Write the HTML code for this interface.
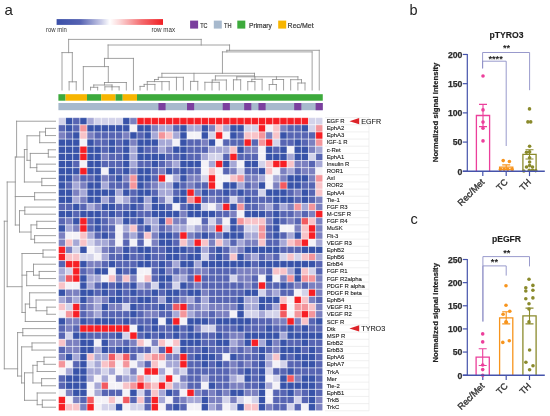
<!DOCTYPE html><html><head><meta charset="utf-8"><style>html,body{margin:0;padding:0;background:#fff;width:550px;height:416px;overflow:hidden}svg{display:block;filter:blur(0.3px)}text{font-family:"Liberation Sans",sans-serif}</style></head><body>
<svg width="550" height="416" viewBox="0 0 550 416">
<defs><linearGradient id="g" x1="0" x2="1"><stop offset="0" stop-color="#3a4fa8"/><stop offset="0.22" stop-color="#5562b2"/><stop offset="0.42" stop-color="#c9cbe7"/><stop offset="0.5" stop-color="#ffffff"/><stop offset="0.6" stop-color="#fbd3d4"/><stop offset="0.8" stop-color="#f46a6d"/><stop offset="1" stop-color="#f01f24"/></linearGradient></defs>
<text x="4.5" y="14.5" font-size="15" fill="#222">a</text>
<rect x="56.6" y="19.1" width="106.4" height="5.8" fill="url(#g)"/>
<text x="46" y="31.8" font-size="6.3" fill="#333" textLength="20.8" lengthAdjust="spacingAndGlyphs">row min</text>
<text x="151.5" y="31.8" font-size="6.3" fill="#333" textLength="23.5" lengthAdjust="spacingAndGlyphs">row max</text>
<rect x="190.1" y="20.6" width="8" height="8" fill="#7b3f9e"/>
<text x="200.2" y="28.0" font-size="7.7" fill="#3a3a3a" stroke="#3a3a3a" stroke-width="0.22" textLength="7.3" lengthAdjust="spacingAndGlyphs">TC</text>
<rect x="213.8" y="20.6" width="8" height="8" fill="#a7b9cd"/>
<text x="224" y="28.0" font-size="7.7" fill="#3a3a3a" stroke="#3a3a3a" stroke-width="0.22" textLength="7.5" lengthAdjust="spacingAndGlyphs">TH</text>
<rect x="237.3" y="20.6" width="8" height="8" fill="#3daa3c"/>
<text x="249" y="28.0" font-size="7.7" fill="#3a3a3a" stroke="#3a3a3a" stroke-width="0.22" textLength="22.9" lengthAdjust="spacingAndGlyphs">Primary</text>
<rect x="278.2" y="20.6" width="8" height="8" fill="#f7b500"/>
<text x="287.6" y="28.0" font-size="7.7" fill="#3a3a3a" stroke="#3a3a3a" stroke-width="0.22" textLength="26.0" lengthAdjust="spacingAndGlyphs">Rec/Met</text>
<rect x="58.40" y="94.2" width="7.14" height="6.5" fill="#3daa3c"/>
<rect x="65.55" y="94.2" width="21.43" height="6.5" fill="#f7b500"/>
<rect x="86.98" y="94.2" width="14.29" height="6.5" fill="#3daa3c"/>
<rect x="101.27" y="94.2" width="14.29" height="6.5" fill="#f7b500"/>
<rect x="115.56" y="94.2" width="7.14" height="6.5" fill="#3daa3c"/>
<rect x="122.70" y="94.2" width="14.29" height="6.5" fill="#f7b500"/>
<rect x="137.00" y="94.2" width="185.77" height="6.5" fill="#3daa3c"/>
<rect x="58.40" y="103" width="264.37" height="7.2" fill="#a7b9cd"/>
<rect x="294.19" y="103" width="7.14" height="7.2" fill="#7b3f9e"/>
<rect x="187.01" y="103" width="7.14" height="7.2" fill="#7b3f9e"/>
<rect x="315.62" y="103" width="7.14" height="7.2" fill="#7b3f9e"/>
<rect x="222.73" y="103" width="7.14" height="7.2" fill="#7b3f9e"/>
<rect x="244.17" y="103" width="7.14" height="7.2" fill="#7b3f9e"/>
<rect x="258.46" y="103" width="7.14" height="7.2" fill="#7b3f9e"/>
<rect x="158.43" y="103" width="7.14" height="7.2" fill="#7b3f9e"/>
<g>
<rect x="58.40" y="117.60" width="7.16" height="7.17" fill="#d3d3ea"/>
<rect x="65.55" y="117.60" width="7.16" height="7.17" fill="#3853a9"/>
<rect x="72.69" y="117.60" width="7.16" height="7.17" fill="#5765b3"/>
<rect x="79.83" y="117.60" width="7.16" height="7.17" fill="#3853a9"/>
<rect x="86.98" y="117.60" width="7.16" height="7.17" fill="#a6a8d6"/>
<rect x="94.12" y="117.60" width="7.16" height="7.17" fill="#d3d3ea"/>
<rect x="101.27" y="117.60" width="7.16" height="7.17" fill="#d3d3ea"/>
<rect x="108.41" y="117.60" width="7.16" height="7.17" fill="#d3d3ea"/>
<rect x="115.56" y="117.60" width="7.16" height="7.17" fill="#d3d3ea"/>
<rect x="122.70" y="117.60" width="7.16" height="7.17" fill="#3853a9"/>
<rect x="129.85" y="117.60" width="7.16" height="7.17" fill="#7b80c0"/>
<rect x="137.00" y="117.60" width="7.16" height="7.17" fill="#f71f25"/>
<rect x="144.14" y="117.60" width="7.16" height="7.17" fill="#f71f25"/>
<rect x="151.28" y="117.60" width="7.16" height="7.17" fill="#f71f25"/>
<rect x="158.43" y="117.60" width="7.16" height="7.17" fill="#f71f25"/>
<rect x="165.57" y="117.60" width="7.16" height="7.17" fill="#f71f25"/>
<rect x="172.72" y="117.60" width="7.16" height="7.17" fill="#f71f25"/>
<rect x="179.86" y="117.60" width="7.16" height="7.17" fill="#f71f25"/>
<rect x="187.01" y="117.60" width="7.16" height="7.17" fill="#f71f25"/>
<rect x="194.16" y="117.60" width="7.16" height="7.17" fill="#f71f25"/>
<rect x="201.30" y="117.60" width="7.16" height="7.17" fill="#f71f25"/>
<rect x="208.44" y="117.60" width="7.16" height="7.17" fill="#f71f25"/>
<rect x="215.59" y="117.60" width="7.16" height="7.17" fill="#f71f25"/>
<rect x="222.73" y="117.60" width="7.16" height="7.17" fill="#f71f25"/>
<rect x="229.88" y="117.60" width="7.16" height="7.17" fill="#f71f25"/>
<rect x="237.03" y="117.60" width="7.16" height="7.17" fill="#f71f25"/>
<rect x="244.17" y="117.60" width="7.16" height="7.17" fill="#f71f25"/>
<rect x="251.31" y="117.60" width="7.16" height="7.17" fill="#f71f25"/>
<rect x="258.46" y="117.60" width="7.16" height="7.17" fill="#f71f25"/>
<rect x="265.60" y="117.60" width="7.16" height="7.17" fill="#f71f25"/>
<rect x="272.75" y="117.60" width="7.16" height="7.17" fill="#f71f25"/>
<rect x="279.89" y="117.60" width="7.16" height="7.17" fill="#f71f25"/>
<rect x="287.04" y="117.60" width="7.16" height="7.17" fill="#f71f25"/>
<rect x="294.19" y="117.60" width="7.16" height="7.17" fill="#f71f25"/>
<rect x="301.33" y="117.60" width="7.16" height="7.17" fill="#f71f25"/>
<rect x="308.47" y="117.60" width="7.16" height="7.17" fill="#d3d3ea"/>
<rect x="315.62" y="117.60" width="7.16" height="7.17" fill="#d3d3ea"/>
<rect x="58.40" y="124.75" width="7.16" height="7.17" fill="#5765b3"/>
<rect x="65.55" y="124.75" width="7.16" height="7.17" fill="#3853a9"/>
<rect x="72.69" y="124.75" width="7.16" height="7.17" fill="#5765b3"/>
<rect x="79.83" y="124.75" width="7.16" height="7.17" fill="#f4959b"/>
<rect x="86.98" y="124.75" width="7.16" height="7.17" fill="#3853a9"/>
<rect x="94.12" y="124.75" width="7.16" height="7.17" fill="#3853a9"/>
<rect x="101.27" y="124.75" width="7.16" height="7.17" fill="#3853a9"/>
<rect x="108.41" y="124.75" width="7.16" height="7.17" fill="#3853a9"/>
<rect x="115.56" y="124.75" width="7.16" height="7.17" fill="#3853a9"/>
<rect x="122.70" y="124.75" width="7.16" height="7.17" fill="#3853a9"/>
<rect x="129.85" y="124.75" width="7.16" height="7.17" fill="#f4f2f7"/>
<rect x="137.00" y="124.75" width="7.16" height="7.17" fill="#3853a9"/>
<rect x="144.14" y="124.75" width="7.16" height="7.17" fill="#3853a9"/>
<rect x="151.28" y="124.75" width="7.16" height="7.17" fill="#7b80c0"/>
<rect x="158.43" y="124.75" width="7.16" height="7.17" fill="#a6a8d6"/>
<rect x="165.57" y="124.75" width="7.16" height="7.17" fill="#a6a8d6"/>
<rect x="172.72" y="124.75" width="7.16" height="7.17" fill="#5765b3"/>
<rect x="179.86" y="124.75" width="7.16" height="7.17" fill="#3853a9"/>
<rect x="187.01" y="124.75" width="7.16" height="7.17" fill="#a6a8d6"/>
<rect x="194.16" y="124.75" width="7.16" height="7.17" fill="#a6a8d6"/>
<rect x="201.30" y="124.75" width="7.16" height="7.17" fill="#3853a9"/>
<rect x="208.44" y="124.75" width="7.16" height="7.17" fill="#7b80c0"/>
<rect x="215.59" y="124.75" width="7.16" height="7.17" fill="#f8c3c8"/>
<rect x="222.73" y="124.75" width="7.16" height="7.17" fill="#a6a8d6"/>
<rect x="229.88" y="124.75" width="7.16" height="7.17" fill="#3853a9"/>
<rect x="237.03" y="124.75" width="7.16" height="7.17" fill="#3853a9"/>
<rect x="244.17" y="124.75" width="7.16" height="7.17" fill="#d3d3ea"/>
<rect x="251.31" y="124.75" width="7.16" height="7.17" fill="#d3d3ea"/>
<rect x="258.46" y="124.75" width="7.16" height="7.17" fill="#f71f25"/>
<rect x="265.60" y="124.75" width="7.16" height="7.17" fill="#f4f2f7"/>
<rect x="272.75" y="124.75" width="7.16" height="7.17" fill="#f8c3c8"/>
<rect x="279.89" y="124.75" width="7.16" height="7.17" fill="#7b80c0"/>
<rect x="287.04" y="124.75" width="7.16" height="7.17" fill="#5765b3"/>
<rect x="294.19" y="124.75" width="7.16" height="7.17" fill="#5765b3"/>
<rect x="301.33" y="124.75" width="7.16" height="7.17" fill="#3853a9"/>
<rect x="308.47" y="124.75" width="7.16" height="7.17" fill="#d3d3ea"/>
<rect x="315.62" y="124.75" width="7.16" height="7.17" fill="#f4959b"/>
<rect x="58.40" y="131.90" width="7.16" height="7.17" fill="#7b80c0"/>
<rect x="65.55" y="131.90" width="7.16" height="7.17" fill="#5765b3"/>
<rect x="72.69" y="131.90" width="7.16" height="7.17" fill="#3853a9"/>
<rect x="79.83" y="131.90" width="7.16" height="7.17" fill="#f8c3c8"/>
<rect x="86.98" y="131.90" width="7.16" height="7.17" fill="#7b80c0"/>
<rect x="94.12" y="131.90" width="7.16" height="7.17" fill="#5765b3"/>
<rect x="101.27" y="131.90" width="7.16" height="7.17" fill="#5765b3"/>
<rect x="108.41" y="131.90" width="7.16" height="7.17" fill="#5765b3"/>
<rect x="115.56" y="131.90" width="7.16" height="7.17" fill="#5765b3"/>
<rect x="122.70" y="131.90" width="7.16" height="7.17" fill="#7b80c0"/>
<rect x="129.85" y="131.90" width="7.16" height="7.17" fill="#3853a9"/>
<rect x="137.00" y="131.90" width="7.16" height="7.17" fill="#5765b3"/>
<rect x="144.14" y="131.90" width="7.16" height="7.17" fill="#3853a9"/>
<rect x="151.28" y="131.90" width="7.16" height="7.17" fill="#a6a8d6"/>
<rect x="158.43" y="131.90" width="7.16" height="7.17" fill="#f4959b"/>
<rect x="165.57" y="131.90" width="7.16" height="7.17" fill="#f8c3c8"/>
<rect x="172.72" y="131.90" width="7.16" height="7.17" fill="#a6a8d6"/>
<rect x="179.86" y="131.90" width="7.16" height="7.17" fill="#3853a9"/>
<rect x="187.01" y="131.90" width="7.16" height="7.17" fill="#f4f2f7"/>
<rect x="194.16" y="131.90" width="7.16" height="7.17" fill="#f4f2f7"/>
<rect x="201.30" y="131.90" width="7.16" height="7.17" fill="#3853a9"/>
<rect x="208.44" y="131.90" width="7.16" height="7.17" fill="#d3d3ea"/>
<rect x="215.59" y="131.90" width="7.16" height="7.17" fill="#f71f25"/>
<rect x="222.73" y="131.90" width="7.16" height="7.17" fill="#f4f2f7"/>
<rect x="229.88" y="131.90" width="7.16" height="7.17" fill="#3853a9"/>
<rect x="237.03" y="131.90" width="7.16" height="7.17" fill="#5765b3"/>
<rect x="244.17" y="131.90" width="7.16" height="7.17" fill="#f8c3c8"/>
<rect x="251.31" y="131.90" width="7.16" height="7.17" fill="#f8c3c8"/>
<rect x="258.46" y="131.90" width="7.16" height="7.17" fill="#f4959b"/>
<rect x="265.60" y="131.90" width="7.16" height="7.17" fill="#7b80c0"/>
<rect x="272.75" y="131.90" width="7.16" height="7.17" fill="#f8c3c8"/>
<rect x="279.89" y="131.90" width="7.16" height="7.17" fill="#3853a9"/>
<rect x="287.04" y="131.90" width="7.16" height="7.17" fill="#5765b3"/>
<rect x="294.19" y="131.90" width="7.16" height="7.17" fill="#5765b3"/>
<rect x="301.33" y="131.90" width="7.16" height="7.17" fill="#5765b3"/>
<rect x="308.47" y="131.90" width="7.16" height="7.17" fill="#5765b3"/>
<rect x="315.62" y="131.90" width="7.16" height="7.17" fill="#f71f25"/>
<rect x="58.40" y="139.05" width="7.16" height="7.17" fill="#3853a9"/>
<rect x="65.55" y="139.05" width="7.16" height="7.17" fill="#3853a9"/>
<rect x="72.69" y="139.05" width="7.16" height="7.17" fill="#3853a9"/>
<rect x="79.83" y="139.05" width="7.16" height="7.17" fill="#f4f2f7"/>
<rect x="86.98" y="139.05" width="7.16" height="7.17" fill="#3853a9"/>
<rect x="94.12" y="139.05" width="7.16" height="7.17" fill="#5765b3"/>
<rect x="101.27" y="139.05" width="7.16" height="7.17" fill="#5765b3"/>
<rect x="108.41" y="139.05" width="7.16" height="7.17" fill="#3853a9"/>
<rect x="115.56" y="139.05" width="7.16" height="7.17" fill="#5765b3"/>
<rect x="122.70" y="139.05" width="7.16" height="7.17" fill="#3853a9"/>
<rect x="129.85" y="139.05" width="7.16" height="7.17" fill="#7b80c0"/>
<rect x="137.00" y="139.05" width="7.16" height="7.17" fill="#3853a9"/>
<rect x="144.14" y="139.05" width="7.16" height="7.17" fill="#3853a9"/>
<rect x="151.28" y="139.05" width="7.16" height="7.17" fill="#3853a9"/>
<rect x="158.43" y="139.05" width="7.16" height="7.17" fill="#a6a8d6"/>
<rect x="165.57" y="139.05" width="7.16" height="7.17" fill="#a6a8d6"/>
<rect x="172.72" y="139.05" width="7.16" height="7.17" fill="#f4f2f7"/>
<rect x="179.86" y="139.05" width="7.16" height="7.17" fill="#3853a9"/>
<rect x="187.01" y="139.05" width="7.16" height="7.17" fill="#5765b3"/>
<rect x="194.16" y="139.05" width="7.16" height="7.17" fill="#5765b3"/>
<rect x="201.30" y="139.05" width="7.16" height="7.17" fill="#7b80c0"/>
<rect x="208.44" y="139.05" width="7.16" height="7.17" fill="#3853a9"/>
<rect x="215.59" y="139.05" width="7.16" height="7.17" fill="#f4f2f7"/>
<rect x="222.73" y="139.05" width="7.16" height="7.17" fill="#5765b3"/>
<rect x="229.88" y="139.05" width="7.16" height="7.17" fill="#5765b3"/>
<rect x="237.03" y="139.05" width="7.16" height="7.17" fill="#5765b3"/>
<rect x="244.17" y="139.05" width="7.16" height="7.17" fill="#f71f25"/>
<rect x="251.31" y="139.05" width="7.16" height="7.17" fill="#5765b3"/>
<rect x="258.46" y="139.05" width="7.16" height="7.17" fill="#f4959b"/>
<rect x="265.60" y="139.05" width="7.16" height="7.17" fill="#f71f25"/>
<rect x="272.75" y="139.05" width="7.16" height="7.17" fill="#d3d3ea"/>
<rect x="279.89" y="139.05" width="7.16" height="7.17" fill="#5765b3"/>
<rect x="287.04" y="139.05" width="7.16" height="7.17" fill="#5765b3"/>
<rect x="294.19" y="139.05" width="7.16" height="7.17" fill="#3853a9"/>
<rect x="301.33" y="139.05" width="7.16" height="7.17" fill="#5765b3"/>
<rect x="308.47" y="139.05" width="7.16" height="7.17" fill="#7b80c0"/>
<rect x="315.62" y="139.05" width="7.16" height="7.17" fill="#f4959b"/>
<rect x="58.40" y="146.20" width="7.16" height="7.17" fill="#3853a9"/>
<rect x="65.55" y="146.20" width="7.16" height="7.17" fill="#3853a9"/>
<rect x="72.69" y="146.20" width="7.16" height="7.17" fill="#3853a9"/>
<rect x="79.83" y="146.20" width="7.16" height="7.17" fill="#f71f25"/>
<rect x="86.98" y="146.20" width="7.16" height="7.17" fill="#3853a9"/>
<rect x="94.12" y="146.20" width="7.16" height="7.17" fill="#3853a9"/>
<rect x="101.27" y="146.20" width="7.16" height="7.17" fill="#5765b3"/>
<rect x="108.41" y="146.20" width="7.16" height="7.17" fill="#3853a9"/>
<rect x="115.56" y="146.20" width="7.16" height="7.17" fill="#5765b3"/>
<rect x="122.70" y="146.20" width="7.16" height="7.17" fill="#3853a9"/>
<rect x="129.85" y="146.20" width="7.16" height="7.17" fill="#a6a8d6"/>
<rect x="137.00" y="146.20" width="7.16" height="7.17" fill="#3853a9"/>
<rect x="144.14" y="146.20" width="7.16" height="7.17" fill="#5765b3"/>
<rect x="151.28" y="146.20" width="7.16" height="7.17" fill="#5765b3"/>
<rect x="158.43" y="146.20" width="7.16" height="7.17" fill="#a6a8d6"/>
<rect x="165.57" y="146.20" width="7.16" height="7.17" fill="#7b80c0"/>
<rect x="172.72" y="146.20" width="7.16" height="7.17" fill="#3853a9"/>
<rect x="179.86" y="146.20" width="7.16" height="7.17" fill="#3853a9"/>
<rect x="187.01" y="146.20" width="7.16" height="7.17" fill="#5765b3"/>
<rect x="194.16" y="146.20" width="7.16" height="7.17" fill="#5765b3"/>
<rect x="201.30" y="146.20" width="7.16" height="7.17" fill="#5765b3"/>
<rect x="208.44" y="146.20" width="7.16" height="7.17" fill="#a6a8d6"/>
<rect x="215.59" y="146.20" width="7.16" height="7.17" fill="#a6a8d6"/>
<rect x="222.73" y="146.20" width="7.16" height="7.17" fill="#a6a8d6"/>
<rect x="229.88" y="146.20" width="7.16" height="7.17" fill="#f8c3c8"/>
<rect x="237.03" y="146.20" width="7.16" height="7.17" fill="#3853a9"/>
<rect x="244.17" y="146.20" width="7.16" height="7.17" fill="#7b80c0"/>
<rect x="251.31" y="146.20" width="7.16" height="7.17" fill="#7b80c0"/>
<rect x="258.46" y="146.20" width="7.16" height="7.17" fill="#f4f2f7"/>
<rect x="265.60" y="146.20" width="7.16" height="7.17" fill="#3853a9"/>
<rect x="272.75" y="146.20" width="7.16" height="7.17" fill="#5765b3"/>
<rect x="279.89" y="146.20" width="7.16" height="7.17" fill="#3853a9"/>
<rect x="287.04" y="146.20" width="7.16" height="7.17" fill="#f4f2f7"/>
<rect x="294.19" y="146.20" width="7.16" height="7.17" fill="#3853a9"/>
<rect x="301.33" y="146.20" width="7.16" height="7.17" fill="#3853a9"/>
<rect x="308.47" y="146.20" width="7.16" height="7.17" fill="#7b80c0"/>
<rect x="315.62" y="146.20" width="7.16" height="7.17" fill="#a6a8d6"/>
<rect x="58.40" y="153.35" width="7.16" height="7.17" fill="#3853a9"/>
<rect x="65.55" y="153.35" width="7.16" height="7.17" fill="#3853a9"/>
<rect x="72.69" y="153.35" width="7.16" height="7.17" fill="#3853a9"/>
<rect x="79.83" y="153.35" width="7.16" height="7.17" fill="#f71f25"/>
<rect x="86.98" y="153.35" width="7.16" height="7.17" fill="#3853a9"/>
<rect x="94.12" y="153.35" width="7.16" height="7.17" fill="#3853a9"/>
<rect x="101.27" y="153.35" width="7.16" height="7.17" fill="#7b80c0"/>
<rect x="108.41" y="153.35" width="7.16" height="7.17" fill="#5765b3"/>
<rect x="115.56" y="153.35" width="7.16" height="7.17" fill="#5765b3"/>
<rect x="122.70" y="153.35" width="7.16" height="7.17" fill="#3853a9"/>
<rect x="129.85" y="153.35" width="7.16" height="7.17" fill="#a6a8d6"/>
<rect x="137.00" y="153.35" width="7.16" height="7.17" fill="#3853a9"/>
<rect x="144.14" y="153.35" width="7.16" height="7.17" fill="#3853a9"/>
<rect x="151.28" y="153.35" width="7.16" height="7.17" fill="#3853a9"/>
<rect x="158.43" y="153.35" width="7.16" height="7.17" fill="#3853a9"/>
<rect x="165.57" y="153.35" width="7.16" height="7.17" fill="#5765b3"/>
<rect x="172.72" y="153.35" width="7.16" height="7.17" fill="#5765b3"/>
<rect x="179.86" y="153.35" width="7.16" height="7.17" fill="#3853a9"/>
<rect x="187.01" y="153.35" width="7.16" height="7.17" fill="#5765b3"/>
<rect x="194.16" y="153.35" width="7.16" height="7.17" fill="#5765b3"/>
<rect x="201.30" y="153.35" width="7.16" height="7.17" fill="#a6a8d6"/>
<rect x="208.44" y="153.35" width="7.16" height="7.17" fill="#d3d3ea"/>
<rect x="215.59" y="153.35" width="7.16" height="7.17" fill="#d3d3ea"/>
<rect x="222.73" y="153.35" width="7.16" height="7.17" fill="#5765b3"/>
<rect x="229.88" y="153.35" width="7.16" height="7.17" fill="#f71f25"/>
<rect x="237.03" y="153.35" width="7.16" height="7.17" fill="#5765b3"/>
<rect x="244.17" y="153.35" width="7.16" height="7.17" fill="#5765b3"/>
<rect x="251.31" y="153.35" width="7.16" height="7.17" fill="#5765b3"/>
<rect x="258.46" y="153.35" width="7.16" height="7.17" fill="#f4f2f7"/>
<rect x="265.60" y="153.35" width="7.16" height="7.17" fill="#3853a9"/>
<rect x="272.75" y="153.35" width="7.16" height="7.17" fill="#3853a9"/>
<rect x="279.89" y="153.35" width="7.16" height="7.17" fill="#3853a9"/>
<rect x="287.04" y="153.35" width="7.16" height="7.17" fill="#a6a8d6"/>
<rect x="294.19" y="153.35" width="7.16" height="7.17" fill="#3853a9"/>
<rect x="301.33" y="153.35" width="7.16" height="7.17" fill="#3853a9"/>
<rect x="308.47" y="153.35" width="7.16" height="7.17" fill="#d3d3ea"/>
<rect x="315.62" y="153.35" width="7.16" height="7.17" fill="#5765b3"/>
<rect x="58.40" y="160.50" width="7.16" height="7.17" fill="#3853a9"/>
<rect x="65.55" y="160.50" width="7.16" height="7.17" fill="#3853a9"/>
<rect x="72.69" y="160.50" width="7.16" height="7.17" fill="#5765b3"/>
<rect x="79.83" y="160.50" width="7.16" height="7.17" fill="#f4f2f7"/>
<rect x="86.98" y="160.50" width="7.16" height="7.17" fill="#3853a9"/>
<rect x="94.12" y="160.50" width="7.16" height="7.17" fill="#3853a9"/>
<rect x="101.27" y="160.50" width="7.16" height="7.17" fill="#5765b3"/>
<rect x="108.41" y="160.50" width="7.16" height="7.17" fill="#5765b3"/>
<rect x="115.56" y="160.50" width="7.16" height="7.17" fill="#5765b3"/>
<rect x="122.70" y="160.50" width="7.16" height="7.17" fill="#3853a9"/>
<rect x="129.85" y="160.50" width="7.16" height="7.17" fill="#a6a8d6"/>
<rect x="137.00" y="160.50" width="7.16" height="7.17" fill="#5765b3"/>
<rect x="144.14" y="160.50" width="7.16" height="7.17" fill="#5765b3"/>
<rect x="151.28" y="160.50" width="7.16" height="7.17" fill="#3853a9"/>
<rect x="158.43" y="160.50" width="7.16" height="7.17" fill="#5765b3"/>
<rect x="165.57" y="160.50" width="7.16" height="7.17" fill="#7b80c0"/>
<rect x="172.72" y="160.50" width="7.16" height="7.17" fill="#a6a8d6"/>
<rect x="179.86" y="160.50" width="7.16" height="7.17" fill="#3853a9"/>
<rect x="187.01" y="160.50" width="7.16" height="7.17" fill="#3853a9"/>
<rect x="194.16" y="160.50" width="7.16" height="7.17" fill="#3853a9"/>
<rect x="201.30" y="160.50" width="7.16" height="7.17" fill="#f4f2f7"/>
<rect x="208.44" y="160.50" width="7.16" height="7.17" fill="#a6a8d6"/>
<rect x="215.59" y="160.50" width="7.16" height="7.17" fill="#f71f25"/>
<rect x="222.73" y="160.50" width="7.16" height="7.17" fill="#3853a9"/>
<rect x="229.88" y="160.50" width="7.16" height="7.17" fill="#a6a8d6"/>
<rect x="237.03" y="160.50" width="7.16" height="7.17" fill="#f4f2f7"/>
<rect x="244.17" y="160.50" width="7.16" height="7.17" fill="#3853a9"/>
<rect x="251.31" y="160.50" width="7.16" height="7.17" fill="#3853a9"/>
<rect x="258.46" y="160.50" width="7.16" height="7.17" fill="#d3d3ea"/>
<rect x="265.60" y="160.50" width="7.16" height="7.17" fill="#f8c3c8"/>
<rect x="272.75" y="160.50" width="7.16" height="7.17" fill="#f71f25"/>
<rect x="279.89" y="160.50" width="7.16" height="7.17" fill="#f71f25"/>
<rect x="287.04" y="160.50" width="7.16" height="7.17" fill="#f8c3c8"/>
<rect x="294.19" y="160.50" width="7.16" height="7.17" fill="#7b80c0"/>
<rect x="301.33" y="160.50" width="7.16" height="7.17" fill="#7b80c0"/>
<rect x="308.47" y="160.50" width="7.16" height="7.17" fill="#5765b3"/>
<rect x="315.62" y="160.50" width="7.16" height="7.17" fill="#a6a8d6"/>
<rect x="58.40" y="167.65" width="7.16" height="7.17" fill="#3853a9"/>
<rect x="65.55" y="167.65" width="7.16" height="7.17" fill="#3853a9"/>
<rect x="72.69" y="167.65" width="7.16" height="7.17" fill="#3853a9"/>
<rect x="79.83" y="167.65" width="7.16" height="7.17" fill="#f71f25"/>
<rect x="86.98" y="167.65" width="7.16" height="7.17" fill="#3853a9"/>
<rect x="94.12" y="167.65" width="7.16" height="7.17" fill="#3853a9"/>
<rect x="101.27" y="167.65" width="7.16" height="7.17" fill="#f4f2f7"/>
<rect x="108.41" y="167.65" width="7.16" height="7.17" fill="#3853a9"/>
<rect x="115.56" y="167.65" width="7.16" height="7.17" fill="#5765b3"/>
<rect x="122.70" y="167.65" width="7.16" height="7.17" fill="#3853a9"/>
<rect x="129.85" y="167.65" width="7.16" height="7.17" fill="#7b80c0"/>
<rect x="137.00" y="167.65" width="7.16" height="7.17" fill="#3853a9"/>
<rect x="144.14" y="167.65" width="7.16" height="7.17" fill="#3853a9"/>
<rect x="151.28" y="167.65" width="7.16" height="7.17" fill="#5765b3"/>
<rect x="158.43" y="167.65" width="7.16" height="7.17" fill="#7b80c0"/>
<rect x="165.57" y="167.65" width="7.16" height="7.17" fill="#3853a9"/>
<rect x="172.72" y="167.65" width="7.16" height="7.17" fill="#5765b3"/>
<rect x="179.86" y="167.65" width="7.16" height="7.17" fill="#3853a9"/>
<rect x="187.01" y="167.65" width="7.16" height="7.17" fill="#5765b3"/>
<rect x="194.16" y="167.65" width="7.16" height="7.17" fill="#5765b3"/>
<rect x="201.30" y="167.65" width="7.16" height="7.17" fill="#f4f2f7"/>
<rect x="208.44" y="167.65" width="7.16" height="7.17" fill="#f8c3c8"/>
<rect x="215.59" y="167.65" width="7.16" height="7.17" fill="#f4f2f7"/>
<rect x="222.73" y="167.65" width="7.16" height="7.17" fill="#5765b3"/>
<rect x="229.88" y="167.65" width="7.16" height="7.17" fill="#7b80c0"/>
<rect x="237.03" y="167.65" width="7.16" height="7.17" fill="#d3d3ea"/>
<rect x="244.17" y="167.65" width="7.16" height="7.17" fill="#5765b3"/>
<rect x="251.31" y="167.65" width="7.16" height="7.17" fill="#5765b3"/>
<rect x="258.46" y="167.65" width="7.16" height="7.17" fill="#3853a9"/>
<rect x="265.60" y="167.65" width="7.16" height="7.17" fill="#f8c3c8"/>
<rect x="272.75" y="167.65" width="7.16" height="7.17" fill="#f4f2f7"/>
<rect x="279.89" y="167.65" width="7.16" height="7.17" fill="#7b80c0"/>
<rect x="287.04" y="167.65" width="7.16" height="7.17" fill="#a6a8d6"/>
<rect x="294.19" y="167.65" width="7.16" height="7.17" fill="#5765b3"/>
<rect x="301.33" y="167.65" width="7.16" height="7.17" fill="#7b80c0"/>
<rect x="308.47" y="167.65" width="7.16" height="7.17" fill="#7b80c0"/>
<rect x="315.62" y="167.65" width="7.16" height="7.17" fill="#f4f2f7"/>
<rect x="58.40" y="174.80" width="7.16" height="7.17" fill="#3853a9"/>
<rect x="65.55" y="174.80" width="7.16" height="7.17" fill="#3853a9"/>
<rect x="72.69" y="174.80" width="7.16" height="7.17" fill="#7b80c0"/>
<rect x="79.83" y="174.80" width="7.16" height="7.17" fill="#5765b3"/>
<rect x="86.98" y="174.80" width="7.16" height="7.17" fill="#5765b3"/>
<rect x="94.12" y="174.80" width="7.16" height="7.17" fill="#3853a9"/>
<rect x="101.27" y="174.80" width="7.16" height="7.17" fill="#7b80c0"/>
<rect x="108.41" y="174.80" width="7.16" height="7.17" fill="#5765b3"/>
<rect x="115.56" y="174.80" width="7.16" height="7.17" fill="#3853a9"/>
<rect x="122.70" y="174.80" width="7.16" height="7.17" fill="#7b80c0"/>
<rect x="129.85" y="174.80" width="7.16" height="7.17" fill="#f4959b"/>
<rect x="137.00" y="174.80" width="7.16" height="7.17" fill="#3853a9"/>
<rect x="144.14" y="174.80" width="7.16" height="7.17" fill="#3853a9"/>
<rect x="151.28" y="174.80" width="7.16" height="7.17" fill="#5765b3"/>
<rect x="158.43" y="174.80" width="7.16" height="7.17" fill="#f71f25"/>
<rect x="165.57" y="174.80" width="7.16" height="7.17" fill="#f4f2f7"/>
<rect x="172.72" y="174.80" width="7.16" height="7.17" fill="#a6a8d6"/>
<rect x="179.86" y="174.80" width="7.16" height="7.17" fill="#3853a9"/>
<rect x="187.01" y="174.80" width="7.16" height="7.17" fill="#7b80c0"/>
<rect x="194.16" y="174.80" width="7.16" height="7.17" fill="#7b80c0"/>
<rect x="201.30" y="174.80" width="7.16" height="7.17" fill="#d3d3ea"/>
<rect x="208.44" y="174.80" width="7.16" height="7.17" fill="#f71f25"/>
<rect x="215.59" y="174.80" width="7.16" height="7.17" fill="#f4f2f7"/>
<rect x="222.73" y="174.80" width="7.16" height="7.17" fill="#f4f2f7"/>
<rect x="229.88" y="174.80" width="7.16" height="7.17" fill="#f8c3c8"/>
<rect x="237.03" y="174.80" width="7.16" height="7.17" fill="#f4959b"/>
<rect x="244.17" y="174.80" width="7.16" height="7.17" fill="#7b80c0"/>
<rect x="251.31" y="174.80" width="7.16" height="7.17" fill="#7b80c0"/>
<rect x="258.46" y="174.80" width="7.16" height="7.17" fill="#a6a8d6"/>
<rect x="265.60" y="174.80" width="7.16" height="7.17" fill="#f4f2f7"/>
<rect x="272.75" y="174.80" width="7.16" height="7.17" fill="#a6a8d6"/>
<rect x="279.89" y="174.80" width="7.16" height="7.17" fill="#7b80c0"/>
<rect x="287.04" y="174.80" width="7.16" height="7.17" fill="#3853a9"/>
<rect x="294.19" y="174.80" width="7.16" height="7.17" fill="#3853a9"/>
<rect x="301.33" y="174.80" width="7.16" height="7.17" fill="#3853a9"/>
<rect x="308.47" y="174.80" width="7.16" height="7.17" fill="#7b80c0"/>
<rect x="315.62" y="174.80" width="7.16" height="7.17" fill="#f4959b"/>
<rect x="58.40" y="181.95" width="7.16" height="7.17" fill="#3853a9"/>
<rect x="65.55" y="181.95" width="7.16" height="7.17" fill="#5765b3"/>
<rect x="72.69" y="181.95" width="7.16" height="7.17" fill="#a6a8d6"/>
<rect x="79.83" y="181.95" width="7.16" height="7.17" fill="#7b80c0"/>
<rect x="86.98" y="181.95" width="7.16" height="7.17" fill="#3853a9"/>
<rect x="94.12" y="181.95" width="7.16" height="7.17" fill="#3853a9"/>
<rect x="101.27" y="181.95" width="7.16" height="7.17" fill="#a6a8d6"/>
<rect x="108.41" y="181.95" width="7.16" height="7.17" fill="#5765b3"/>
<rect x="115.56" y="181.95" width="7.16" height="7.17" fill="#5765b3"/>
<rect x="122.70" y="181.95" width="7.16" height="7.17" fill="#5765b3"/>
<rect x="129.85" y="181.95" width="7.16" height="7.17" fill="#f4959b"/>
<rect x="137.00" y="181.95" width="7.16" height="7.17" fill="#3853a9"/>
<rect x="144.14" y="181.95" width="7.16" height="7.17" fill="#5765b3"/>
<rect x="151.28" y="181.95" width="7.16" height="7.17" fill="#7b80c0"/>
<rect x="158.43" y="181.95" width="7.16" height="7.17" fill="#a6a8d6"/>
<rect x="165.57" y="181.95" width="7.16" height="7.17" fill="#a6a8d6"/>
<rect x="172.72" y="181.95" width="7.16" height="7.17" fill="#3853a9"/>
<rect x="179.86" y="181.95" width="7.16" height="7.17" fill="#5765b3"/>
<rect x="187.01" y="181.95" width="7.16" height="7.17" fill="#7b80c0"/>
<rect x="194.16" y="181.95" width="7.16" height="7.17" fill="#5765b3"/>
<rect x="201.30" y="181.95" width="7.16" height="7.17" fill="#5765b3"/>
<rect x="208.44" y="181.95" width="7.16" height="7.17" fill="#f71f25"/>
<rect x="215.59" y="181.95" width="7.16" height="7.17" fill="#f4f2f7"/>
<rect x="222.73" y="181.95" width="7.16" height="7.17" fill="#3853a9"/>
<rect x="229.88" y="181.95" width="7.16" height="7.17" fill="#3853a9"/>
<rect x="237.03" y="181.95" width="7.16" height="7.17" fill="#a6a8d6"/>
<rect x="244.17" y="181.95" width="7.16" height="7.17" fill="#5765b3"/>
<rect x="251.31" y="181.95" width="7.16" height="7.17" fill="#7b80c0"/>
<rect x="258.46" y="181.95" width="7.16" height="7.17" fill="#3853a9"/>
<rect x="265.60" y="181.95" width="7.16" height="7.17" fill="#f4f2f7"/>
<rect x="272.75" y="181.95" width="7.16" height="7.17" fill="#7b80c0"/>
<rect x="279.89" y="181.95" width="7.16" height="7.17" fill="#f25a60"/>
<rect x="287.04" y="181.95" width="7.16" height="7.17" fill="#3853a9"/>
<rect x="294.19" y="181.95" width="7.16" height="7.17" fill="#3853a9"/>
<rect x="301.33" y="181.95" width="7.16" height="7.17" fill="#5765b3"/>
<rect x="308.47" y="181.95" width="7.16" height="7.17" fill="#5765b3"/>
<rect x="315.62" y="181.95" width="7.16" height="7.17" fill="#f8c3c8"/>
<rect x="58.40" y="189.10" width="7.16" height="7.17" fill="#3853a9"/>
<rect x="65.55" y="189.10" width="7.16" height="7.17" fill="#3853a9"/>
<rect x="72.69" y="189.10" width="7.16" height="7.17" fill="#7b80c0"/>
<rect x="79.83" y="189.10" width="7.16" height="7.17" fill="#a6a8d6"/>
<rect x="86.98" y="189.10" width="7.16" height="7.17" fill="#3853a9"/>
<rect x="94.12" y="189.10" width="7.16" height="7.17" fill="#3853a9"/>
<rect x="101.27" y="189.10" width="7.16" height="7.17" fill="#3853a9"/>
<rect x="108.41" y="189.10" width="7.16" height="7.17" fill="#3853a9"/>
<rect x="115.56" y="189.10" width="7.16" height="7.17" fill="#a6a8d6"/>
<rect x="122.70" y="189.10" width="7.16" height="7.17" fill="#3853a9"/>
<rect x="129.85" y="189.10" width="7.16" height="7.17" fill="#5765b3"/>
<rect x="137.00" y="189.10" width="7.16" height="7.17" fill="#3853a9"/>
<rect x="144.14" y="189.10" width="7.16" height="7.17" fill="#3853a9"/>
<rect x="151.28" y="189.10" width="7.16" height="7.17" fill="#5765b3"/>
<rect x="158.43" y="189.10" width="7.16" height="7.17" fill="#a6a8d6"/>
<rect x="165.57" y="189.10" width="7.16" height="7.17" fill="#a6a8d6"/>
<rect x="172.72" y="189.10" width="7.16" height="7.17" fill="#5765b3"/>
<rect x="179.86" y="189.10" width="7.16" height="7.17" fill="#3853a9"/>
<rect x="187.01" y="189.10" width="7.16" height="7.17" fill="#f71f25"/>
<rect x="194.16" y="189.10" width="7.16" height="7.17" fill="#7b80c0"/>
<rect x="201.30" y="189.10" width="7.16" height="7.17" fill="#3853a9"/>
<rect x="208.44" y="189.10" width="7.16" height="7.17" fill="#5765b3"/>
<rect x="215.59" y="189.10" width="7.16" height="7.17" fill="#5765b3"/>
<rect x="222.73" y="189.10" width="7.16" height="7.17" fill="#3853a9"/>
<rect x="229.88" y="189.10" width="7.16" height="7.17" fill="#5765b3"/>
<rect x="237.03" y="189.10" width="7.16" height="7.17" fill="#3853a9"/>
<rect x="244.17" y="189.10" width="7.16" height="7.17" fill="#5765b3"/>
<rect x="251.31" y="189.10" width="7.16" height="7.17" fill="#5765b3"/>
<rect x="258.46" y="189.10" width="7.16" height="7.17" fill="#d3d3ea"/>
<rect x="265.60" y="189.10" width="7.16" height="7.17" fill="#3853a9"/>
<rect x="272.75" y="189.10" width="7.16" height="7.17" fill="#3853a9"/>
<rect x="279.89" y="189.10" width="7.16" height="7.17" fill="#3853a9"/>
<rect x="287.04" y="189.10" width="7.16" height="7.17" fill="#5765b3"/>
<rect x="294.19" y="189.10" width="7.16" height="7.17" fill="#7b80c0"/>
<rect x="301.33" y="189.10" width="7.16" height="7.17" fill="#3853a9"/>
<rect x="308.47" y="189.10" width="7.16" height="7.17" fill="#5765b3"/>
<rect x="315.62" y="189.10" width="7.16" height="7.17" fill="#f8c3c8"/>
<rect x="58.40" y="196.25" width="7.16" height="7.17" fill="#3853a9"/>
<rect x="65.55" y="196.25" width="7.16" height="7.17" fill="#3853a9"/>
<rect x="72.69" y="196.25" width="7.16" height="7.17" fill="#a6a8d6"/>
<rect x="79.83" y="196.25" width="7.16" height="7.17" fill="#7b80c0"/>
<rect x="86.98" y="196.25" width="7.16" height="7.17" fill="#3853a9"/>
<rect x="94.12" y="196.25" width="7.16" height="7.17" fill="#3853a9"/>
<rect x="101.27" y="196.25" width="7.16" height="7.17" fill="#a6a8d6"/>
<rect x="108.41" y="196.25" width="7.16" height="7.17" fill="#5765b3"/>
<rect x="115.56" y="196.25" width="7.16" height="7.17" fill="#d3d3ea"/>
<rect x="122.70" y="196.25" width="7.16" height="7.17" fill="#a6a8d6"/>
<rect x="129.85" y="196.25" width="7.16" height="7.17" fill="#5765b3"/>
<rect x="137.00" y="196.25" width="7.16" height="7.17" fill="#3853a9"/>
<rect x="144.14" y="196.25" width="7.16" height="7.17" fill="#a6a8d6"/>
<rect x="151.28" y="196.25" width="7.16" height="7.17" fill="#3853a9"/>
<rect x="158.43" y="196.25" width="7.16" height="7.17" fill="#7b80c0"/>
<rect x="165.57" y="196.25" width="7.16" height="7.17" fill="#d3d3ea"/>
<rect x="172.72" y="196.25" width="7.16" height="7.17" fill="#3853a9"/>
<rect x="179.86" y="196.25" width="7.16" height="7.17" fill="#3853a9"/>
<rect x="187.01" y="196.25" width="7.16" height="7.17" fill="#f4959b"/>
<rect x="194.16" y="196.25" width="7.16" height="7.17" fill="#f71f25"/>
<rect x="201.30" y="196.25" width="7.16" height="7.17" fill="#5765b3"/>
<rect x="208.44" y="196.25" width="7.16" height="7.17" fill="#7b80c0"/>
<rect x="215.59" y="196.25" width="7.16" height="7.17" fill="#5765b3"/>
<rect x="222.73" y="196.25" width="7.16" height="7.17" fill="#5765b3"/>
<rect x="229.88" y="196.25" width="7.16" height="7.17" fill="#d3d3ea"/>
<rect x="237.03" y="196.25" width="7.16" height="7.17" fill="#7b80c0"/>
<rect x="244.17" y="196.25" width="7.16" height="7.17" fill="#3853a9"/>
<rect x="251.31" y="196.25" width="7.16" height="7.17" fill="#5765b3"/>
<rect x="258.46" y="196.25" width="7.16" height="7.17" fill="#5765b3"/>
<rect x="265.60" y="196.25" width="7.16" height="7.17" fill="#5765b3"/>
<rect x="272.75" y="196.25" width="7.16" height="7.17" fill="#3853a9"/>
<rect x="279.89" y="196.25" width="7.16" height="7.17" fill="#3853a9"/>
<rect x="287.04" y="196.25" width="7.16" height="7.17" fill="#3853a9"/>
<rect x="294.19" y="196.25" width="7.16" height="7.17" fill="#5765b3"/>
<rect x="301.33" y="196.25" width="7.16" height="7.17" fill="#3853a9"/>
<rect x="308.47" y="196.25" width="7.16" height="7.17" fill="#5765b3"/>
<rect x="315.62" y="196.25" width="7.16" height="7.17" fill="#7b80c0"/>
<rect x="58.40" y="203.40" width="7.16" height="7.17" fill="#5765b3"/>
<rect x="65.55" y="203.40" width="7.16" height="7.17" fill="#5765b3"/>
<rect x="72.69" y="203.40" width="7.16" height="7.17" fill="#3853a9"/>
<rect x="79.83" y="203.40" width="7.16" height="7.17" fill="#5765b3"/>
<rect x="86.98" y="203.40" width="7.16" height="7.17" fill="#a6a8d6"/>
<rect x="94.12" y="203.40" width="7.16" height="7.17" fill="#7b80c0"/>
<rect x="101.27" y="203.40" width="7.16" height="7.17" fill="#3853a9"/>
<rect x="108.41" y="203.40" width="7.16" height="7.17" fill="#3853a9"/>
<rect x="115.56" y="203.40" width="7.16" height="7.17" fill="#5765b3"/>
<rect x="122.70" y="203.40" width="7.16" height="7.17" fill="#5765b3"/>
<rect x="129.85" y="203.40" width="7.16" height="7.17" fill="#3853a9"/>
<rect x="137.00" y="203.40" width="7.16" height="7.17" fill="#5765b3"/>
<rect x="144.14" y="203.40" width="7.16" height="7.17" fill="#a6a8d6"/>
<rect x="151.28" y="203.40" width="7.16" height="7.17" fill="#3853a9"/>
<rect x="158.43" y="203.40" width="7.16" height="7.17" fill="#3853a9"/>
<rect x="165.57" y="203.40" width="7.16" height="7.17" fill="#5765b3"/>
<rect x="172.72" y="203.40" width="7.16" height="7.17" fill="#f4f2f7"/>
<rect x="179.86" y="203.40" width="7.16" height="7.17" fill="#5765b3"/>
<rect x="187.01" y="203.40" width="7.16" height="7.17" fill="#3853a9"/>
<rect x="194.16" y="203.40" width="7.16" height="7.17" fill="#3853a9"/>
<rect x="201.30" y="203.40" width="7.16" height="7.17" fill="#d3d3ea"/>
<rect x="208.44" y="203.40" width="7.16" height="7.17" fill="#f4f2f7"/>
<rect x="215.59" y="203.40" width="7.16" height="7.17" fill="#a6a8d6"/>
<rect x="222.73" y="203.40" width="7.16" height="7.17" fill="#f71f25"/>
<rect x="229.88" y="203.40" width="7.16" height="7.17" fill="#3853a9"/>
<rect x="237.03" y="203.40" width="7.16" height="7.17" fill="#f4959b"/>
<rect x="244.17" y="203.40" width="7.16" height="7.17" fill="#5765b3"/>
<rect x="251.31" y="203.40" width="7.16" height="7.17" fill="#5765b3"/>
<rect x="258.46" y="203.40" width="7.16" height="7.17" fill="#7b80c0"/>
<rect x="265.60" y="203.40" width="7.16" height="7.17" fill="#a6a8d6"/>
<rect x="272.75" y="203.40" width="7.16" height="7.17" fill="#5765b3"/>
<rect x="279.89" y="203.40" width="7.16" height="7.17" fill="#a6a8d6"/>
<rect x="287.04" y="203.40" width="7.16" height="7.17" fill="#7b80c0"/>
<rect x="294.19" y="203.40" width="7.16" height="7.17" fill="#f4959b"/>
<rect x="301.33" y="203.40" width="7.16" height="7.17" fill="#a6a8d6"/>
<rect x="308.47" y="203.40" width="7.16" height="7.17" fill="#f4959b"/>
<rect x="315.62" y="203.40" width="7.16" height="7.17" fill="#7b80c0"/>
<rect x="58.40" y="210.55" width="7.16" height="7.17" fill="#3853a9"/>
<rect x="65.55" y="210.55" width="7.16" height="7.17" fill="#3853a9"/>
<rect x="72.69" y="210.55" width="7.16" height="7.17" fill="#5765b3"/>
<rect x="79.83" y="210.55" width="7.16" height="7.17" fill="#3853a9"/>
<rect x="86.98" y="210.55" width="7.16" height="7.17" fill="#3853a9"/>
<rect x="94.12" y="210.55" width="7.16" height="7.17" fill="#3853a9"/>
<rect x="101.27" y="210.55" width="7.16" height="7.17" fill="#5765b3"/>
<rect x="108.41" y="210.55" width="7.16" height="7.17" fill="#3853a9"/>
<rect x="115.56" y="210.55" width="7.16" height="7.17" fill="#5765b3"/>
<rect x="122.70" y="210.55" width="7.16" height="7.17" fill="#3853a9"/>
<rect x="129.85" y="210.55" width="7.16" height="7.17" fill="#3853a9"/>
<rect x="137.00" y="210.55" width="7.16" height="7.17" fill="#5765b3"/>
<rect x="144.14" y="210.55" width="7.16" height="7.17" fill="#5765b3"/>
<rect x="151.28" y="210.55" width="7.16" height="7.17" fill="#3853a9"/>
<rect x="158.43" y="210.55" width="7.16" height="7.17" fill="#3853a9"/>
<rect x="165.57" y="210.55" width="7.16" height="7.17" fill="#3853a9"/>
<rect x="172.72" y="210.55" width="7.16" height="7.17" fill="#3853a9"/>
<rect x="179.86" y="210.55" width="7.16" height="7.17" fill="#7b80c0"/>
<rect x="187.01" y="210.55" width="7.16" height="7.17" fill="#3853a9"/>
<rect x="194.16" y="210.55" width="7.16" height="7.17" fill="#3853a9"/>
<rect x="201.30" y="210.55" width="7.16" height="7.17" fill="#3853a9"/>
<rect x="208.44" y="210.55" width="7.16" height="7.17" fill="#3853a9"/>
<rect x="215.59" y="210.55" width="7.16" height="7.17" fill="#5765b3"/>
<rect x="222.73" y="210.55" width="7.16" height="7.17" fill="#5765b3"/>
<rect x="229.88" y="210.55" width="7.16" height="7.17" fill="#7b80c0"/>
<rect x="237.03" y="210.55" width="7.16" height="7.17" fill="#f4f2f7"/>
<rect x="244.17" y="210.55" width="7.16" height="7.17" fill="#3853a9"/>
<rect x="251.31" y="210.55" width="7.16" height="7.17" fill="#3853a9"/>
<rect x="258.46" y="210.55" width="7.16" height="7.17" fill="#3853a9"/>
<rect x="265.60" y="210.55" width="7.16" height="7.17" fill="#5765b3"/>
<rect x="272.75" y="210.55" width="7.16" height="7.17" fill="#3853a9"/>
<rect x="279.89" y="210.55" width="7.16" height="7.17" fill="#5765b3"/>
<rect x="287.04" y="210.55" width="7.16" height="7.17" fill="#5765b3"/>
<rect x="294.19" y="210.55" width="7.16" height="7.17" fill="#7b80c0"/>
<rect x="301.33" y="210.55" width="7.16" height="7.17" fill="#5765b3"/>
<rect x="308.47" y="210.55" width="7.16" height="7.17" fill="#7b80c0"/>
<rect x="315.62" y="210.55" width="7.16" height="7.17" fill="#f71f25"/>
<rect x="58.40" y="217.70" width="7.16" height="7.17" fill="#5765b3"/>
<rect x="65.55" y="217.70" width="7.16" height="7.17" fill="#7b80c0"/>
<rect x="72.69" y="217.70" width="7.16" height="7.17" fill="#3853a9"/>
<rect x="79.83" y="217.70" width="7.16" height="7.17" fill="#f71f25"/>
<rect x="86.98" y="217.70" width="7.16" height="7.17" fill="#5765b3"/>
<rect x="94.12" y="217.70" width="7.16" height="7.17" fill="#3853a9"/>
<rect x="101.27" y="217.70" width="7.16" height="7.17" fill="#5765b3"/>
<rect x="108.41" y="217.70" width="7.16" height="7.17" fill="#7b80c0"/>
<rect x="115.56" y="217.70" width="7.16" height="7.17" fill="#a6a8d6"/>
<rect x="122.70" y="217.70" width="7.16" height="7.17" fill="#3853a9"/>
<rect x="129.85" y="217.70" width="7.16" height="7.17" fill="#5765b3"/>
<rect x="137.00" y="217.70" width="7.16" height="7.17" fill="#3853a9"/>
<rect x="144.14" y="217.70" width="7.16" height="7.17" fill="#a6a8d6"/>
<rect x="151.28" y="217.70" width="7.16" height="7.17" fill="#a6a8d6"/>
<rect x="158.43" y="217.70" width="7.16" height="7.17" fill="#3853a9"/>
<rect x="165.57" y="217.70" width="7.16" height="7.17" fill="#f4959b"/>
<rect x="172.72" y="217.70" width="7.16" height="7.17" fill="#7b80c0"/>
<rect x="179.86" y="217.70" width="7.16" height="7.17" fill="#7b80c0"/>
<rect x="187.01" y="217.70" width="7.16" height="7.17" fill="#f4f2f7"/>
<rect x="194.16" y="217.70" width="7.16" height="7.17" fill="#f4f2f7"/>
<rect x="201.30" y="217.70" width="7.16" height="7.17" fill="#5765b3"/>
<rect x="208.44" y="217.70" width="7.16" height="7.17" fill="#d3d3ea"/>
<rect x="215.59" y="217.70" width="7.16" height="7.17" fill="#7b80c0"/>
<rect x="222.73" y="217.70" width="7.16" height="7.17" fill="#f4f2f7"/>
<rect x="229.88" y="217.70" width="7.16" height="7.17" fill="#3853a9"/>
<rect x="237.03" y="217.70" width="7.16" height="7.17" fill="#f4959b"/>
<rect x="244.17" y="217.70" width="7.16" height="7.17" fill="#f8c3c8"/>
<rect x="251.31" y="217.70" width="7.16" height="7.17" fill="#f8c3c8"/>
<rect x="258.46" y="217.70" width="7.16" height="7.17" fill="#f8c3c8"/>
<rect x="265.60" y="217.70" width="7.16" height="7.17" fill="#7b80c0"/>
<rect x="272.75" y="217.70" width="7.16" height="7.17" fill="#3853a9"/>
<rect x="279.89" y="217.70" width="7.16" height="7.17" fill="#5765b3"/>
<rect x="287.04" y="217.70" width="7.16" height="7.17" fill="#7b80c0"/>
<rect x="294.19" y="217.70" width="7.16" height="7.17" fill="#5765b3"/>
<rect x="301.33" y="217.70" width="7.16" height="7.17" fill="#f25a60"/>
<rect x="308.47" y="217.70" width="7.16" height="7.17" fill="#f8c3c8"/>
<rect x="315.62" y="217.70" width="7.16" height="7.17" fill="#7b80c0"/>
<rect x="58.40" y="224.85" width="7.16" height="7.17" fill="#3853a9"/>
<rect x="65.55" y="224.85" width="7.16" height="7.17" fill="#a6a8d6"/>
<rect x="72.69" y="224.85" width="7.16" height="7.17" fill="#7b80c0"/>
<rect x="79.83" y="224.85" width="7.16" height="7.17" fill="#f71f25"/>
<rect x="86.98" y="224.85" width="7.16" height="7.17" fill="#5765b3"/>
<rect x="94.12" y="224.85" width="7.16" height="7.17" fill="#3853a9"/>
<rect x="101.27" y="224.85" width="7.16" height="7.17" fill="#5765b3"/>
<rect x="108.41" y="224.85" width="7.16" height="7.17" fill="#5765b3"/>
<rect x="115.56" y="224.85" width="7.16" height="7.17" fill="#f4f2f7"/>
<rect x="122.70" y="224.85" width="7.16" height="7.17" fill="#a6a8d6"/>
<rect x="129.85" y="224.85" width="7.16" height="7.17" fill="#f8c3c8"/>
<rect x="137.00" y="224.85" width="7.16" height="7.17" fill="#5765b3"/>
<rect x="144.14" y="224.85" width="7.16" height="7.17" fill="#3853a9"/>
<rect x="151.28" y="224.85" width="7.16" height="7.17" fill="#a6a8d6"/>
<rect x="158.43" y="224.85" width="7.16" height="7.17" fill="#5765b3"/>
<rect x="165.57" y="224.85" width="7.16" height="7.17" fill="#7b80c0"/>
<rect x="172.72" y="224.85" width="7.16" height="7.17" fill="#a6a8d6"/>
<rect x="179.86" y="224.85" width="7.16" height="7.17" fill="#a6a8d6"/>
<rect x="187.01" y="224.85" width="7.16" height="7.17" fill="#d3d3ea"/>
<rect x="194.16" y="224.85" width="7.16" height="7.17" fill="#a6a8d6"/>
<rect x="201.30" y="224.85" width="7.16" height="7.17" fill="#7b80c0"/>
<rect x="208.44" y="224.85" width="7.16" height="7.17" fill="#a6a8d6"/>
<rect x="215.59" y="224.85" width="7.16" height="7.17" fill="#f71f25"/>
<rect x="222.73" y="224.85" width="7.16" height="7.17" fill="#d3d3ea"/>
<rect x="229.88" y="224.85" width="7.16" height="7.17" fill="#3853a9"/>
<rect x="237.03" y="224.85" width="7.16" height="7.17" fill="#5765b3"/>
<rect x="244.17" y="224.85" width="7.16" height="7.17" fill="#d3d3ea"/>
<rect x="251.31" y="224.85" width="7.16" height="7.17" fill="#d3d3ea"/>
<rect x="258.46" y="224.85" width="7.16" height="7.17" fill="#f4959b"/>
<rect x="265.60" y="224.85" width="7.16" height="7.17" fill="#5765b3"/>
<rect x="272.75" y="224.85" width="7.16" height="7.17" fill="#3853a9"/>
<rect x="279.89" y="224.85" width="7.16" height="7.17" fill="#f4f2f7"/>
<rect x="287.04" y="224.85" width="7.16" height="7.17" fill="#f4f2f7"/>
<rect x="294.19" y="224.85" width="7.16" height="7.17" fill="#7b80c0"/>
<rect x="301.33" y="224.85" width="7.16" height="7.17" fill="#f8c3c8"/>
<rect x="308.47" y="224.85" width="7.16" height="7.17" fill="#f71f25"/>
<rect x="315.62" y="224.85" width="7.16" height="7.17" fill="#7b80c0"/>
<rect x="58.40" y="232.00" width="7.16" height="7.17" fill="#7b80c0"/>
<rect x="65.55" y="232.00" width="7.16" height="7.17" fill="#f4f2f7"/>
<rect x="72.69" y="232.00" width="7.16" height="7.17" fill="#f4f2f7"/>
<rect x="79.83" y="232.00" width="7.16" height="7.17" fill="#f8c3c8"/>
<rect x="86.98" y="232.00" width="7.16" height="7.17" fill="#a6a8d6"/>
<rect x="94.12" y="232.00" width="7.16" height="7.17" fill="#5765b3"/>
<rect x="101.27" y="232.00" width="7.16" height="7.17" fill="#3853a9"/>
<rect x="108.41" y="232.00" width="7.16" height="7.17" fill="#5765b3"/>
<rect x="115.56" y="232.00" width="7.16" height="7.17" fill="#f4f2f7"/>
<rect x="122.70" y="232.00" width="7.16" height="7.17" fill="#7b80c0"/>
<rect x="129.85" y="232.00" width="7.16" height="7.17" fill="#a6a8d6"/>
<rect x="137.00" y="232.00" width="7.16" height="7.17" fill="#5765b3"/>
<rect x="144.14" y="232.00" width="7.16" height="7.17" fill="#f8c3c8"/>
<rect x="151.28" y="232.00" width="7.16" height="7.17" fill="#7b80c0"/>
<rect x="158.43" y="232.00" width="7.16" height="7.17" fill="#3853a9"/>
<rect x="165.57" y="232.00" width="7.16" height="7.17" fill="#3853a9"/>
<rect x="172.72" y="232.00" width="7.16" height="7.17" fill="#5765b3"/>
<rect x="179.86" y="232.00" width="7.16" height="7.17" fill="#f71f25"/>
<rect x="187.01" y="232.00" width="7.16" height="7.17" fill="#7b80c0"/>
<rect x="194.16" y="232.00" width="7.16" height="7.17" fill="#5765b3"/>
<rect x="201.30" y="232.00" width="7.16" height="7.17" fill="#3853a9"/>
<rect x="208.44" y="232.00" width="7.16" height="7.17" fill="#5765b3"/>
<rect x="215.59" y="232.00" width="7.16" height="7.17" fill="#7b80c0"/>
<rect x="222.73" y="232.00" width="7.16" height="7.17" fill="#3853a9"/>
<rect x="229.88" y="232.00" width="7.16" height="7.17" fill="#3853a9"/>
<rect x="237.03" y="232.00" width="7.16" height="7.17" fill="#3853a9"/>
<rect x="244.17" y="232.00" width="7.16" height="7.17" fill="#a6a8d6"/>
<rect x="251.31" y="232.00" width="7.16" height="7.17" fill="#a6a8d6"/>
<rect x="258.46" y="232.00" width="7.16" height="7.17" fill="#f4959b"/>
<rect x="265.60" y="232.00" width="7.16" height="7.17" fill="#5765b3"/>
<rect x="272.75" y="232.00" width="7.16" height="7.17" fill="#3853a9"/>
<rect x="279.89" y="232.00" width="7.16" height="7.17" fill="#5765b3"/>
<rect x="287.04" y="232.00" width="7.16" height="7.17" fill="#a6a8d6"/>
<rect x="294.19" y="232.00" width="7.16" height="7.17" fill="#3853a9"/>
<rect x="301.33" y="232.00" width="7.16" height="7.17" fill="#f8c3c8"/>
<rect x="308.47" y="232.00" width="7.16" height="7.17" fill="#f71f25"/>
<rect x="315.62" y="232.00" width="7.16" height="7.17" fill="#7b80c0"/>
<rect x="58.40" y="239.15" width="7.16" height="7.17" fill="#7b80c0"/>
<rect x="65.55" y="239.15" width="7.16" height="7.17" fill="#f8c3c8"/>
<rect x="72.69" y="239.15" width="7.16" height="7.17" fill="#a6a8d6"/>
<rect x="79.83" y="239.15" width="7.16" height="7.17" fill="#f8c3c8"/>
<rect x="86.98" y="239.15" width="7.16" height="7.17" fill="#d3d3ea"/>
<rect x="94.12" y="239.15" width="7.16" height="7.17" fill="#a6a8d6"/>
<rect x="101.27" y="239.15" width="7.16" height="7.17" fill="#a6a8d6"/>
<rect x="108.41" y="239.15" width="7.16" height="7.17" fill="#7b80c0"/>
<rect x="115.56" y="239.15" width="7.16" height="7.17" fill="#f4f2f7"/>
<rect x="122.70" y="239.15" width="7.16" height="7.17" fill="#5765b3"/>
<rect x="129.85" y="239.15" width="7.16" height="7.17" fill="#f4f2f7"/>
<rect x="137.00" y="239.15" width="7.16" height="7.17" fill="#5765b3"/>
<rect x="144.14" y="239.15" width="7.16" height="7.17" fill="#f4f2f7"/>
<rect x="151.28" y="239.15" width="7.16" height="7.17" fill="#7b80c0"/>
<rect x="158.43" y="239.15" width="7.16" height="7.17" fill="#3853a9"/>
<rect x="165.57" y="239.15" width="7.16" height="7.17" fill="#3853a9"/>
<rect x="172.72" y="239.15" width="7.16" height="7.17" fill="#5765b3"/>
<rect x="179.86" y="239.15" width="7.16" height="7.17" fill="#f8c3c8"/>
<rect x="187.01" y="239.15" width="7.16" height="7.17" fill="#a6a8d6"/>
<rect x="194.16" y="239.15" width="7.16" height="7.17" fill="#f71f25"/>
<rect x="201.30" y="239.15" width="7.16" height="7.17" fill="#f8c3c8"/>
<rect x="208.44" y="239.15" width="7.16" height="7.17" fill="#7b80c0"/>
<rect x="215.59" y="239.15" width="7.16" height="7.17" fill="#f8c3c8"/>
<rect x="222.73" y="239.15" width="7.16" height="7.17" fill="#a6a8d6"/>
<rect x="229.88" y="239.15" width="7.16" height="7.17" fill="#5765b3"/>
<rect x="237.03" y="239.15" width="7.16" height="7.17" fill="#a6a8d6"/>
<rect x="244.17" y="239.15" width="7.16" height="7.17" fill="#7b80c0"/>
<rect x="251.31" y="239.15" width="7.16" height="7.17" fill="#7b80c0"/>
<rect x="258.46" y="239.15" width="7.16" height="7.17" fill="#f8c3c8"/>
<rect x="265.60" y="239.15" width="7.16" height="7.17" fill="#5765b3"/>
<rect x="272.75" y="239.15" width="7.16" height="7.17" fill="#5765b3"/>
<rect x="279.89" y="239.15" width="7.16" height="7.17" fill="#a6a8d6"/>
<rect x="287.04" y="239.15" width="7.16" height="7.17" fill="#f8c3c8"/>
<rect x="294.19" y="239.15" width="7.16" height="7.17" fill="#f4959b"/>
<rect x="301.33" y="239.15" width="7.16" height="7.17" fill="#f71f25"/>
<rect x="308.47" y="239.15" width="7.16" height="7.17" fill="#f4f2f7"/>
<rect x="315.62" y="239.15" width="7.16" height="7.17" fill="#a6a8d6"/>
<rect x="58.40" y="246.30" width="7.16" height="7.17" fill="#f71f25"/>
<rect x="65.55" y="246.30" width="7.16" height="7.17" fill="#7b80c0"/>
<rect x="72.69" y="246.30" width="7.16" height="7.17" fill="#d3d3ea"/>
<rect x="79.83" y="246.30" width="7.16" height="7.17" fill="#3853a9"/>
<rect x="86.98" y="246.30" width="7.16" height="7.17" fill="#f4f2f7"/>
<rect x="94.12" y="246.30" width="7.16" height="7.17" fill="#d3d3ea"/>
<rect x="101.27" y="246.30" width="7.16" height="7.17" fill="#7b80c0"/>
<rect x="108.41" y="246.30" width="7.16" height="7.17" fill="#5765b3"/>
<rect x="115.56" y="246.30" width="7.16" height="7.17" fill="#7b80c0"/>
<rect x="122.70" y="246.30" width="7.16" height="7.17" fill="#3853a9"/>
<rect x="129.85" y="246.30" width="7.16" height="7.17" fill="#5765b3"/>
<rect x="137.00" y="246.30" width="7.16" height="7.17" fill="#3853a9"/>
<rect x="144.14" y="246.30" width="7.16" height="7.17" fill="#3853a9"/>
<rect x="151.28" y="246.30" width="7.16" height="7.17" fill="#5765b3"/>
<rect x="158.43" y="246.30" width="7.16" height="7.17" fill="#5765b3"/>
<rect x="165.57" y="246.30" width="7.16" height="7.17" fill="#3853a9"/>
<rect x="172.72" y="246.30" width="7.16" height="7.17" fill="#3853a9"/>
<rect x="179.86" y="246.30" width="7.16" height="7.17" fill="#3853a9"/>
<rect x="187.01" y="246.30" width="7.16" height="7.17" fill="#5765b3"/>
<rect x="194.16" y="246.30" width="7.16" height="7.17" fill="#3853a9"/>
<rect x="201.30" y="246.30" width="7.16" height="7.17" fill="#a6a8d6"/>
<rect x="208.44" y="246.30" width="7.16" height="7.17" fill="#5765b3"/>
<rect x="215.59" y="246.30" width="7.16" height="7.17" fill="#3853a9"/>
<rect x="222.73" y="246.30" width="7.16" height="7.17" fill="#5765b3"/>
<rect x="229.88" y="246.30" width="7.16" height="7.17" fill="#a6a8d6"/>
<rect x="237.03" y="246.30" width="7.16" height="7.17" fill="#7b80c0"/>
<rect x="244.17" y="246.30" width="7.16" height="7.17" fill="#3853a9"/>
<rect x="251.31" y="246.30" width="7.16" height="7.17" fill="#3853a9"/>
<rect x="258.46" y="246.30" width="7.16" height="7.17" fill="#3853a9"/>
<rect x="265.60" y="246.30" width="7.16" height="7.17" fill="#3853a9"/>
<rect x="272.75" y="246.30" width="7.16" height="7.17" fill="#3853a9"/>
<rect x="279.89" y="246.30" width="7.16" height="7.17" fill="#5765b3"/>
<rect x="287.04" y="246.30" width="7.16" height="7.17" fill="#5765b3"/>
<rect x="294.19" y="246.30" width="7.16" height="7.17" fill="#5765b3"/>
<rect x="301.33" y="246.30" width="7.16" height="7.17" fill="#3853a9"/>
<rect x="308.47" y="246.30" width="7.16" height="7.17" fill="#3853a9"/>
<rect x="315.62" y="246.30" width="7.16" height="7.17" fill="#3853a9"/>
<rect x="58.40" y="253.45" width="7.16" height="7.17" fill="#f71f25"/>
<rect x="65.55" y="253.45" width="7.16" height="7.17" fill="#f8c3c8"/>
<rect x="72.69" y="253.45" width="7.16" height="7.17" fill="#f8c3c8"/>
<rect x="79.83" y="253.45" width="7.16" height="7.17" fill="#d3d3ea"/>
<rect x="86.98" y="253.45" width="7.16" height="7.17" fill="#d3d3ea"/>
<rect x="94.12" y="253.45" width="7.16" height="7.17" fill="#f4f2f7"/>
<rect x="101.27" y="253.45" width="7.16" height="7.17" fill="#a6a8d6"/>
<rect x="108.41" y="253.45" width="7.16" height="7.17" fill="#5765b3"/>
<rect x="115.56" y="253.45" width="7.16" height="7.17" fill="#5765b3"/>
<rect x="122.70" y="253.45" width="7.16" height="7.17" fill="#3853a9"/>
<rect x="129.85" y="253.45" width="7.16" height="7.17" fill="#5765b3"/>
<rect x="137.00" y="253.45" width="7.16" height="7.17" fill="#5765b3"/>
<rect x="144.14" y="253.45" width="7.16" height="7.17" fill="#3853a9"/>
<rect x="151.28" y="253.45" width="7.16" height="7.17" fill="#5765b3"/>
<rect x="158.43" y="253.45" width="7.16" height="7.17" fill="#5765b3"/>
<rect x="165.57" y="253.45" width="7.16" height="7.17" fill="#3853a9"/>
<rect x="172.72" y="253.45" width="7.16" height="7.17" fill="#3853a9"/>
<rect x="179.86" y="253.45" width="7.16" height="7.17" fill="#5765b3"/>
<rect x="187.01" y="253.45" width="7.16" height="7.17" fill="#3853a9"/>
<rect x="194.16" y="253.45" width="7.16" height="7.17" fill="#3853a9"/>
<rect x="201.30" y="253.45" width="7.16" height="7.17" fill="#d3d3ea"/>
<rect x="208.44" y="253.45" width="7.16" height="7.17" fill="#5765b3"/>
<rect x="215.59" y="253.45" width="7.16" height="7.17" fill="#3853a9"/>
<rect x="222.73" y="253.45" width="7.16" height="7.17" fill="#5765b3"/>
<rect x="229.88" y="253.45" width="7.16" height="7.17" fill="#f8c3c8"/>
<rect x="237.03" y="253.45" width="7.16" height="7.17" fill="#3853a9"/>
<rect x="244.17" y="253.45" width="7.16" height="7.17" fill="#7b80c0"/>
<rect x="251.31" y="253.45" width="7.16" height="7.17" fill="#a6a8d6"/>
<rect x="258.46" y="253.45" width="7.16" height="7.17" fill="#5765b3"/>
<rect x="265.60" y="253.45" width="7.16" height="7.17" fill="#7b80c0"/>
<rect x="272.75" y="253.45" width="7.16" height="7.17" fill="#5765b3"/>
<rect x="279.89" y="253.45" width="7.16" height="7.17" fill="#d3d3ea"/>
<rect x="287.04" y="253.45" width="7.16" height="7.17" fill="#f8c3c8"/>
<rect x="294.19" y="253.45" width="7.16" height="7.17" fill="#d3d3ea"/>
<rect x="301.33" y="253.45" width="7.16" height="7.17" fill="#f8c3c8"/>
<rect x="308.47" y="253.45" width="7.16" height="7.17" fill="#f4959b"/>
<rect x="315.62" y="253.45" width="7.16" height="7.17" fill="#a6a8d6"/>
<rect x="58.40" y="260.60" width="7.16" height="7.17" fill="#5765b3"/>
<rect x="65.55" y="260.60" width="7.16" height="7.17" fill="#f71f25"/>
<rect x="72.69" y="260.60" width="7.16" height="7.17" fill="#f71f25"/>
<rect x="79.83" y="260.60" width="7.16" height="7.17" fill="#3853a9"/>
<rect x="86.98" y="260.60" width="7.16" height="7.17" fill="#7b80c0"/>
<rect x="94.12" y="260.60" width="7.16" height="7.17" fill="#7b80c0"/>
<rect x="101.27" y="260.60" width="7.16" height="7.17" fill="#5765b3"/>
<rect x="108.41" y="260.60" width="7.16" height="7.17" fill="#3853a9"/>
<rect x="115.56" y="260.60" width="7.16" height="7.17" fill="#5765b3"/>
<rect x="122.70" y="260.60" width="7.16" height="7.17" fill="#5765b3"/>
<rect x="129.85" y="260.60" width="7.16" height="7.17" fill="#5765b3"/>
<rect x="137.00" y="260.60" width="7.16" height="7.17" fill="#3853a9"/>
<rect x="144.14" y="260.60" width="7.16" height="7.17" fill="#3853a9"/>
<rect x="151.28" y="260.60" width="7.16" height="7.17" fill="#5765b3"/>
<rect x="158.43" y="260.60" width="7.16" height="7.17" fill="#3853a9"/>
<rect x="165.57" y="260.60" width="7.16" height="7.17" fill="#5765b3"/>
<rect x="172.72" y="260.60" width="7.16" height="7.17" fill="#a6a8d6"/>
<rect x="179.86" y="260.60" width="7.16" height="7.17" fill="#3853a9"/>
<rect x="187.01" y="260.60" width="7.16" height="7.17" fill="#3853a9"/>
<rect x="194.16" y="260.60" width="7.16" height="7.17" fill="#a6a8d6"/>
<rect x="201.30" y="260.60" width="7.16" height="7.17" fill="#3853a9"/>
<rect x="208.44" y="260.60" width="7.16" height="7.17" fill="#3853a9"/>
<rect x="215.59" y="260.60" width="7.16" height="7.17" fill="#3853a9"/>
<rect x="222.73" y="260.60" width="7.16" height="7.17" fill="#3853a9"/>
<rect x="229.88" y="260.60" width="7.16" height="7.17" fill="#3853a9"/>
<rect x="237.03" y="260.60" width="7.16" height="7.17" fill="#3853a9"/>
<rect x="244.17" y="260.60" width="7.16" height="7.17" fill="#3853a9"/>
<rect x="251.31" y="260.60" width="7.16" height="7.17" fill="#5765b3"/>
<rect x="258.46" y="260.60" width="7.16" height="7.17" fill="#3853a9"/>
<rect x="265.60" y="260.60" width="7.16" height="7.17" fill="#3853a9"/>
<rect x="272.75" y="260.60" width="7.16" height="7.17" fill="#3853a9"/>
<rect x="279.89" y="260.60" width="7.16" height="7.17" fill="#3853a9"/>
<rect x="287.04" y="260.60" width="7.16" height="7.17" fill="#3853a9"/>
<rect x="294.19" y="260.60" width="7.16" height="7.17" fill="#3853a9"/>
<rect x="301.33" y="260.60" width="7.16" height="7.17" fill="#3853a9"/>
<rect x="308.47" y="260.60" width="7.16" height="7.17" fill="#3853a9"/>
<rect x="315.62" y="260.60" width="7.16" height="7.17" fill="#5765b3"/>
<rect x="58.40" y="267.75" width="7.16" height="7.17" fill="#a6a8d6"/>
<rect x="65.55" y="267.75" width="7.16" height="7.17" fill="#d3d3ea"/>
<rect x="72.69" y="267.75" width="7.16" height="7.17" fill="#f71f25"/>
<rect x="79.83" y="267.75" width="7.16" height="7.17" fill="#5765b3"/>
<rect x="86.98" y="267.75" width="7.16" height="7.17" fill="#7b80c0"/>
<rect x="94.12" y="267.75" width="7.16" height="7.17" fill="#3853a9"/>
<rect x="101.27" y="267.75" width="7.16" height="7.17" fill="#3853a9"/>
<rect x="108.41" y="267.75" width="7.16" height="7.17" fill="#f4f2f7"/>
<rect x="115.56" y="267.75" width="7.16" height="7.17" fill="#3853a9"/>
<rect x="122.70" y="267.75" width="7.16" height="7.17" fill="#5765b3"/>
<rect x="129.85" y="267.75" width="7.16" height="7.17" fill="#3853a9"/>
<rect x="137.00" y="267.75" width="7.16" height="7.17" fill="#f4f2f7"/>
<rect x="144.14" y="267.75" width="7.16" height="7.17" fill="#f4f2f7"/>
<rect x="151.28" y="267.75" width="7.16" height="7.17" fill="#5765b3"/>
<rect x="158.43" y="267.75" width="7.16" height="7.17" fill="#3853a9"/>
<rect x="165.57" y="267.75" width="7.16" height="7.17" fill="#7b80c0"/>
<rect x="172.72" y="267.75" width="7.16" height="7.17" fill="#5765b3"/>
<rect x="179.86" y="267.75" width="7.16" height="7.17" fill="#7b80c0"/>
<rect x="187.01" y="267.75" width="7.16" height="7.17" fill="#5765b3"/>
<rect x="194.16" y="267.75" width="7.16" height="7.17" fill="#7b80c0"/>
<rect x="201.30" y="267.75" width="7.16" height="7.17" fill="#7b80c0"/>
<rect x="208.44" y="267.75" width="7.16" height="7.17" fill="#5765b3"/>
<rect x="215.59" y="267.75" width="7.16" height="7.17" fill="#5765b3"/>
<rect x="222.73" y="267.75" width="7.16" height="7.17" fill="#5765b3"/>
<rect x="229.88" y="267.75" width="7.16" height="7.17" fill="#5765b3"/>
<rect x="237.03" y="267.75" width="7.16" height="7.17" fill="#7b80c0"/>
<rect x="244.17" y="267.75" width="7.16" height="7.17" fill="#7b80c0"/>
<rect x="251.31" y="267.75" width="7.16" height="7.17" fill="#7b80c0"/>
<rect x="258.46" y="267.75" width="7.16" height="7.17" fill="#7b80c0"/>
<rect x="265.60" y="267.75" width="7.16" height="7.17" fill="#5765b3"/>
<rect x="272.75" y="267.75" width="7.16" height="7.17" fill="#f8c3c8"/>
<rect x="279.89" y="267.75" width="7.16" height="7.17" fill="#f8c3c8"/>
<rect x="287.04" y="267.75" width="7.16" height="7.17" fill="#a6a8d6"/>
<rect x="294.19" y="267.75" width="7.16" height="7.17" fill="#3853a9"/>
<rect x="301.33" y="267.75" width="7.16" height="7.17" fill="#f8c3c8"/>
<rect x="308.47" y="267.75" width="7.16" height="7.17" fill="#d3d3ea"/>
<rect x="315.62" y="267.75" width="7.16" height="7.17" fill="#5765b3"/>
<rect x="58.40" y="274.90" width="7.16" height="7.17" fill="#a6a8d6"/>
<rect x="65.55" y="274.90" width="7.16" height="7.17" fill="#f25a60"/>
<rect x="72.69" y="274.90" width="7.16" height="7.17" fill="#f71f25"/>
<rect x="79.83" y="274.90" width="7.16" height="7.17" fill="#3853a9"/>
<rect x="86.98" y="274.90" width="7.16" height="7.17" fill="#a6a8d6"/>
<rect x="94.12" y="274.90" width="7.16" height="7.17" fill="#a6a8d6"/>
<rect x="101.27" y="274.90" width="7.16" height="7.17" fill="#f4f2f7"/>
<rect x="108.41" y="274.90" width="7.16" height="7.17" fill="#f8c3c8"/>
<rect x="115.56" y="274.90" width="7.16" height="7.17" fill="#7b80c0"/>
<rect x="122.70" y="274.90" width="7.16" height="7.17" fill="#f8c3c8"/>
<rect x="129.85" y="274.90" width="7.16" height="7.17" fill="#7b80c0"/>
<rect x="137.00" y="274.90" width="7.16" height="7.17" fill="#f4f2f7"/>
<rect x="144.14" y="274.90" width="7.16" height="7.17" fill="#f8c3c8"/>
<rect x="151.28" y="274.90" width="7.16" height="7.17" fill="#5765b3"/>
<rect x="158.43" y="274.90" width="7.16" height="7.17" fill="#3853a9"/>
<rect x="165.57" y="274.90" width="7.16" height="7.17" fill="#3853a9"/>
<rect x="172.72" y="274.90" width="7.16" height="7.17" fill="#a6a8d6"/>
<rect x="179.86" y="274.90" width="7.16" height="7.17" fill="#a6a8d6"/>
<rect x="187.01" y="274.90" width="7.16" height="7.17" fill="#5765b3"/>
<rect x="194.16" y="274.90" width="7.16" height="7.17" fill="#f71f25"/>
<rect x="201.30" y="274.90" width="7.16" height="7.17" fill="#5765b3"/>
<rect x="208.44" y="274.90" width="7.16" height="7.17" fill="#5765b3"/>
<rect x="215.59" y="274.90" width="7.16" height="7.17" fill="#5765b3"/>
<rect x="222.73" y="274.90" width="7.16" height="7.17" fill="#5765b3"/>
<rect x="229.88" y="274.90" width="7.16" height="7.17" fill="#d3d3ea"/>
<rect x="237.03" y="274.90" width="7.16" height="7.17" fill="#7b80c0"/>
<rect x="244.17" y="274.90" width="7.16" height="7.17" fill="#7b80c0"/>
<rect x="251.31" y="274.90" width="7.16" height="7.17" fill="#5765b3"/>
<rect x="258.46" y="274.90" width="7.16" height="7.17" fill="#f4f2f7"/>
<rect x="265.60" y="274.90" width="7.16" height="7.17" fill="#3853a9"/>
<rect x="272.75" y="274.90" width="7.16" height="7.17" fill="#f4f2f7"/>
<rect x="279.89" y="274.90" width="7.16" height="7.17" fill="#7b80c0"/>
<rect x="287.04" y="274.90" width="7.16" height="7.17" fill="#f4959b"/>
<rect x="294.19" y="274.90" width="7.16" height="7.17" fill="#3853a9"/>
<rect x="301.33" y="274.90" width="7.16" height="7.17" fill="#f4959b"/>
<rect x="308.47" y="274.90" width="7.16" height="7.17" fill="#f4959b"/>
<rect x="315.62" y="274.90" width="7.16" height="7.17" fill="#7b80c0"/>
<rect x="58.40" y="282.05" width="7.16" height="7.17" fill="#f8c3c8"/>
<rect x="65.55" y="282.05" width="7.16" height="7.17" fill="#f4f2f7"/>
<rect x="72.69" y="282.05" width="7.16" height="7.17" fill="#f4f2f7"/>
<rect x="79.83" y="282.05" width="7.16" height="7.17" fill="#3853a9"/>
<rect x="86.98" y="282.05" width="7.16" height="7.17" fill="#a6a8d6"/>
<rect x="94.12" y="282.05" width="7.16" height="7.17" fill="#5765b3"/>
<rect x="101.27" y="282.05" width="7.16" height="7.17" fill="#3853a9"/>
<rect x="108.41" y="282.05" width="7.16" height="7.17" fill="#5765b3"/>
<rect x="115.56" y="282.05" width="7.16" height="7.17" fill="#3853a9"/>
<rect x="122.70" y="282.05" width="7.16" height="7.17" fill="#5765b3"/>
<rect x="129.85" y="282.05" width="7.16" height="7.17" fill="#3853a9"/>
<rect x="137.00" y="282.05" width="7.16" height="7.17" fill="#a6a8d6"/>
<rect x="144.14" y="282.05" width="7.16" height="7.17" fill="#7b80c0"/>
<rect x="151.28" y="282.05" width="7.16" height="7.17" fill="#d3d3ea"/>
<rect x="158.43" y="282.05" width="7.16" height="7.17" fill="#3853a9"/>
<rect x="165.57" y="282.05" width="7.16" height="7.17" fill="#5765b3"/>
<rect x="172.72" y="282.05" width="7.16" height="7.17" fill="#d3d3ea"/>
<rect x="179.86" y="282.05" width="7.16" height="7.17" fill="#3853a9"/>
<rect x="187.01" y="282.05" width="7.16" height="7.17" fill="#5765b3"/>
<rect x="194.16" y="282.05" width="7.16" height="7.17" fill="#7b80c0"/>
<rect x="201.30" y="282.05" width="7.16" height="7.17" fill="#5765b3"/>
<rect x="208.44" y="282.05" width="7.16" height="7.17" fill="#5765b3"/>
<rect x="215.59" y="282.05" width="7.16" height="7.17" fill="#5765b3"/>
<rect x="222.73" y="282.05" width="7.16" height="7.17" fill="#5765b3"/>
<rect x="229.88" y="282.05" width="7.16" height="7.17" fill="#5765b3"/>
<rect x="237.03" y="282.05" width="7.16" height="7.17" fill="#5765b3"/>
<rect x="244.17" y="282.05" width="7.16" height="7.17" fill="#7b80c0"/>
<rect x="251.31" y="282.05" width="7.16" height="7.17" fill="#5765b3"/>
<rect x="258.46" y="282.05" width="7.16" height="7.17" fill="#f71f25"/>
<rect x="265.60" y="282.05" width="7.16" height="7.17" fill="#5765b3"/>
<rect x="272.75" y="282.05" width="7.16" height="7.17" fill="#5765b3"/>
<rect x="279.89" y="282.05" width="7.16" height="7.17" fill="#3853a9"/>
<rect x="287.04" y="282.05" width="7.16" height="7.17" fill="#5765b3"/>
<rect x="294.19" y="282.05" width="7.16" height="7.17" fill="#7b80c0"/>
<rect x="301.33" y="282.05" width="7.16" height="7.17" fill="#5765b3"/>
<rect x="308.47" y="282.05" width="7.16" height="7.17" fill="#7b80c0"/>
<rect x="315.62" y="282.05" width="7.16" height="7.17" fill="#7b80c0"/>
<rect x="58.40" y="289.20" width="7.16" height="7.17" fill="#3853a9"/>
<rect x="65.55" y="289.20" width="7.16" height="7.17" fill="#7b80c0"/>
<rect x="72.69" y="289.20" width="7.16" height="7.17" fill="#7b80c0"/>
<rect x="79.83" y="289.20" width="7.16" height="7.17" fill="#3853a9"/>
<rect x="86.98" y="289.20" width="7.16" height="7.17" fill="#3853a9"/>
<rect x="94.12" y="289.20" width="7.16" height="7.17" fill="#5765b3"/>
<rect x="101.27" y="289.20" width="7.16" height="7.17" fill="#3853a9"/>
<rect x="108.41" y="289.20" width="7.16" height="7.17" fill="#5765b3"/>
<rect x="115.56" y="289.20" width="7.16" height="7.17" fill="#3853a9"/>
<rect x="122.70" y="289.20" width="7.16" height="7.17" fill="#5765b3"/>
<rect x="129.85" y="289.20" width="7.16" height="7.17" fill="#3853a9"/>
<rect x="137.00" y="289.20" width="7.16" height="7.17" fill="#5765b3"/>
<rect x="144.14" y="289.20" width="7.16" height="7.17" fill="#5765b3"/>
<rect x="151.28" y="289.20" width="7.16" height="7.17" fill="#3853a9"/>
<rect x="158.43" y="289.20" width="7.16" height="7.17" fill="#5765b3"/>
<rect x="165.57" y="289.20" width="7.16" height="7.17" fill="#3853a9"/>
<rect x="172.72" y="289.20" width="7.16" height="7.17" fill="#3853a9"/>
<rect x="179.86" y="289.20" width="7.16" height="7.17" fill="#5765b3"/>
<rect x="187.01" y="289.20" width="7.16" height="7.17" fill="#3853a9"/>
<rect x="194.16" y="289.20" width="7.16" height="7.17" fill="#3853a9"/>
<rect x="201.30" y="289.20" width="7.16" height="7.17" fill="#7b80c0"/>
<rect x="208.44" y="289.20" width="7.16" height="7.17" fill="#5765b3"/>
<rect x="215.59" y="289.20" width="7.16" height="7.17" fill="#5765b3"/>
<rect x="222.73" y="289.20" width="7.16" height="7.17" fill="#5765b3"/>
<rect x="229.88" y="289.20" width="7.16" height="7.17" fill="#5765b3"/>
<rect x="237.03" y="289.20" width="7.16" height="7.17" fill="#5765b3"/>
<rect x="244.17" y="289.20" width="7.16" height="7.17" fill="#3853a9"/>
<rect x="251.31" y="289.20" width="7.16" height="7.17" fill="#3853a9"/>
<rect x="258.46" y="289.20" width="7.16" height="7.17" fill="#d3d3ea"/>
<rect x="265.60" y="289.20" width="7.16" height="7.17" fill="#7b80c0"/>
<rect x="272.75" y="289.20" width="7.16" height="7.17" fill="#a6a8d6"/>
<rect x="279.89" y="289.20" width="7.16" height="7.17" fill="#5765b3"/>
<rect x="287.04" y="289.20" width="7.16" height="7.17" fill="#5765b3"/>
<rect x="294.19" y="289.20" width="7.16" height="7.17" fill="#f4f2f7"/>
<rect x="301.33" y="289.20" width="7.16" height="7.17" fill="#d3d3ea"/>
<rect x="308.47" y="289.20" width="7.16" height="7.17" fill="#f71f25"/>
<rect x="315.62" y="289.20" width="7.16" height="7.17" fill="#7b80c0"/>
<rect x="58.40" y="296.35" width="7.16" height="7.17" fill="#a6a8d6"/>
<rect x="65.55" y="296.35" width="7.16" height="7.17" fill="#7b80c0"/>
<rect x="72.69" y="296.35" width="7.16" height="7.17" fill="#a6a8d6"/>
<rect x="79.83" y="296.35" width="7.16" height="7.17" fill="#3853a9"/>
<rect x="86.98" y="296.35" width="7.16" height="7.17" fill="#7b80c0"/>
<rect x="94.12" y="296.35" width="7.16" height="7.17" fill="#a6a8d6"/>
<rect x="101.27" y="296.35" width="7.16" height="7.17" fill="#7b80c0"/>
<rect x="108.41" y="296.35" width="7.16" height="7.17" fill="#3853a9"/>
<rect x="115.56" y="296.35" width="7.16" height="7.17" fill="#3853a9"/>
<rect x="122.70" y="296.35" width="7.16" height="7.17" fill="#5765b3"/>
<rect x="129.85" y="296.35" width="7.16" height="7.17" fill="#5765b3"/>
<rect x="137.00" y="296.35" width="7.16" height="7.17" fill="#3853a9"/>
<rect x="144.14" y="296.35" width="7.16" height="7.17" fill="#3853a9"/>
<rect x="151.28" y="296.35" width="7.16" height="7.17" fill="#5765b3"/>
<rect x="158.43" y="296.35" width="7.16" height="7.17" fill="#a6a8d6"/>
<rect x="165.57" y="296.35" width="7.16" height="7.17" fill="#3853a9"/>
<rect x="172.72" y="296.35" width="7.16" height="7.17" fill="#5765b3"/>
<rect x="179.86" y="296.35" width="7.16" height="7.17" fill="#7b80c0"/>
<rect x="187.01" y="296.35" width="7.16" height="7.17" fill="#a6a8d6"/>
<rect x="194.16" y="296.35" width="7.16" height="7.17" fill="#5765b3"/>
<rect x="201.30" y="296.35" width="7.16" height="7.17" fill="#a6a8d6"/>
<rect x="208.44" y="296.35" width="7.16" height="7.17" fill="#5765b3"/>
<rect x="215.59" y="296.35" width="7.16" height="7.17" fill="#5765b3"/>
<rect x="222.73" y="296.35" width="7.16" height="7.17" fill="#5765b3"/>
<rect x="229.88" y="296.35" width="7.16" height="7.17" fill="#5765b3"/>
<rect x="237.03" y="296.35" width="7.16" height="7.17" fill="#3853a9"/>
<rect x="244.17" y="296.35" width="7.16" height="7.17" fill="#a6a8d6"/>
<rect x="251.31" y="296.35" width="7.16" height="7.17" fill="#a6a8d6"/>
<rect x="258.46" y="296.35" width="7.16" height="7.17" fill="#3853a9"/>
<rect x="265.60" y="296.35" width="7.16" height="7.17" fill="#3853a9"/>
<rect x="272.75" y="296.35" width="7.16" height="7.17" fill="#3853a9"/>
<rect x="279.89" y="296.35" width="7.16" height="7.17" fill="#f8c3c8"/>
<rect x="287.04" y="296.35" width="7.16" height="7.17" fill="#f4f2f7"/>
<rect x="294.19" y="296.35" width="7.16" height="7.17" fill="#f71f25"/>
<rect x="301.33" y="296.35" width="7.16" height="7.17" fill="#f8c3c8"/>
<rect x="308.47" y="296.35" width="7.16" height="7.17" fill="#7b80c0"/>
<rect x="315.62" y="296.35" width="7.16" height="7.17" fill="#5765b3"/>
<rect x="58.40" y="303.50" width="7.16" height="7.17" fill="#f8c3c8"/>
<rect x="65.55" y="303.50" width="7.16" height="7.17" fill="#d3d3ea"/>
<rect x="72.69" y="303.50" width="7.16" height="7.17" fill="#f71f25"/>
<rect x="79.83" y="303.50" width="7.16" height="7.17" fill="#5765b3"/>
<rect x="86.98" y="303.50" width="7.16" height="7.17" fill="#7b80c0"/>
<rect x="94.12" y="303.50" width="7.16" height="7.17" fill="#a6a8d6"/>
<rect x="101.27" y="303.50" width="7.16" height="7.17" fill="#3853a9"/>
<rect x="108.41" y="303.50" width="7.16" height="7.17" fill="#7b80c0"/>
<rect x="115.56" y="303.50" width="7.16" height="7.17" fill="#7b80c0"/>
<rect x="122.70" y="303.50" width="7.16" height="7.17" fill="#d3d3ea"/>
<rect x="129.85" y="303.50" width="7.16" height="7.17" fill="#3853a9"/>
<rect x="137.00" y="303.50" width="7.16" height="7.17" fill="#5765b3"/>
<rect x="144.14" y="303.50" width="7.16" height="7.17" fill="#5765b3"/>
<rect x="151.28" y="303.50" width="7.16" height="7.17" fill="#5765b3"/>
<rect x="158.43" y="303.50" width="7.16" height="7.17" fill="#3853a9"/>
<rect x="165.57" y="303.50" width="7.16" height="7.17" fill="#5765b3"/>
<rect x="172.72" y="303.50" width="7.16" height="7.17" fill="#f25a60"/>
<rect x="179.86" y="303.50" width="7.16" height="7.17" fill="#f71f25"/>
<rect x="187.01" y="303.50" width="7.16" height="7.17" fill="#7b80c0"/>
<rect x="194.16" y="303.50" width="7.16" height="7.17" fill="#7b80c0"/>
<rect x="201.30" y="303.50" width="7.16" height="7.17" fill="#a6a8d6"/>
<rect x="208.44" y="303.50" width="7.16" height="7.17" fill="#7b80c0"/>
<rect x="215.59" y="303.50" width="7.16" height="7.17" fill="#7b80c0"/>
<rect x="222.73" y="303.50" width="7.16" height="7.17" fill="#7b80c0"/>
<rect x="229.88" y="303.50" width="7.16" height="7.17" fill="#7b80c0"/>
<rect x="237.03" y="303.50" width="7.16" height="7.17" fill="#3853a9"/>
<rect x="244.17" y="303.50" width="7.16" height="7.17" fill="#a6a8d6"/>
<rect x="251.31" y="303.50" width="7.16" height="7.17" fill="#a6a8d6"/>
<rect x="258.46" y="303.50" width="7.16" height="7.17" fill="#3853a9"/>
<rect x="265.60" y="303.50" width="7.16" height="7.17" fill="#5765b3"/>
<rect x="272.75" y="303.50" width="7.16" height="7.17" fill="#a6a8d6"/>
<rect x="279.89" y="303.50" width="7.16" height="7.17" fill="#f71f25"/>
<rect x="287.04" y="303.50" width="7.16" height="7.17" fill="#f4f2f7"/>
<rect x="294.19" y="303.50" width="7.16" height="7.17" fill="#f4959b"/>
<rect x="301.33" y="303.50" width="7.16" height="7.17" fill="#f4959b"/>
<rect x="308.47" y="303.50" width="7.16" height="7.17" fill="#f8c3c8"/>
<rect x="315.62" y="303.50" width="7.16" height="7.17" fill="#7b80c0"/>
<rect x="58.40" y="310.65" width="7.16" height="7.17" fill="#f4f2f7"/>
<rect x="65.55" y="310.65" width="7.16" height="7.17" fill="#f4959b"/>
<rect x="72.69" y="310.65" width="7.16" height="7.17" fill="#f71f25"/>
<rect x="79.83" y="310.65" width="7.16" height="7.17" fill="#5765b3"/>
<rect x="86.98" y="310.65" width="7.16" height="7.17" fill="#7b80c0"/>
<rect x="94.12" y="310.65" width="7.16" height="7.17" fill="#a6a8d6"/>
<rect x="101.27" y="310.65" width="7.16" height="7.17" fill="#5765b3"/>
<rect x="108.41" y="310.65" width="7.16" height="7.17" fill="#5765b3"/>
<rect x="115.56" y="310.65" width="7.16" height="7.17" fill="#5765b3"/>
<rect x="122.70" y="310.65" width="7.16" height="7.17" fill="#5765b3"/>
<rect x="129.85" y="310.65" width="7.16" height="7.17" fill="#3853a9"/>
<rect x="137.00" y="310.65" width="7.16" height="7.17" fill="#5765b3"/>
<rect x="144.14" y="310.65" width="7.16" height="7.17" fill="#7b80c0"/>
<rect x="151.28" y="310.65" width="7.16" height="7.17" fill="#7b80c0"/>
<rect x="158.43" y="310.65" width="7.16" height="7.17" fill="#5765b3"/>
<rect x="165.57" y="310.65" width="7.16" height="7.17" fill="#5765b3"/>
<rect x="172.72" y="310.65" width="7.16" height="7.17" fill="#a6a8d6"/>
<rect x="179.86" y="310.65" width="7.16" height="7.17" fill="#f4959b"/>
<rect x="187.01" y="310.65" width="7.16" height="7.17" fill="#a6a8d6"/>
<rect x="194.16" y="310.65" width="7.16" height="7.17" fill="#7b80c0"/>
<rect x="201.30" y="310.65" width="7.16" height="7.17" fill="#7b80c0"/>
<rect x="208.44" y="310.65" width="7.16" height="7.17" fill="#5765b3"/>
<rect x="215.59" y="310.65" width="7.16" height="7.17" fill="#7b80c0"/>
<rect x="222.73" y="310.65" width="7.16" height="7.17" fill="#7b80c0"/>
<rect x="229.88" y="310.65" width="7.16" height="7.17" fill="#f4f2f7"/>
<rect x="237.03" y="310.65" width="7.16" height="7.17" fill="#3853a9"/>
<rect x="244.17" y="310.65" width="7.16" height="7.17" fill="#d3d3ea"/>
<rect x="251.31" y="310.65" width="7.16" height="7.17" fill="#d3d3ea"/>
<rect x="258.46" y="310.65" width="7.16" height="7.17" fill="#a6a8d6"/>
<rect x="265.60" y="310.65" width="7.16" height="7.17" fill="#d3d3ea"/>
<rect x="272.75" y="310.65" width="7.16" height="7.17" fill="#d3d3ea"/>
<rect x="279.89" y="310.65" width="7.16" height="7.17" fill="#f25a60"/>
<rect x="287.04" y="310.65" width="7.16" height="7.17" fill="#f4f2f7"/>
<rect x="294.19" y="310.65" width="7.16" height="7.17" fill="#f4959b"/>
<rect x="301.33" y="310.65" width="7.16" height="7.17" fill="#f71f25"/>
<rect x="308.47" y="310.65" width="7.16" height="7.17" fill="#f4959b"/>
<rect x="315.62" y="310.65" width="7.16" height="7.17" fill="#7b80c0"/>
<rect x="58.40" y="317.80" width="7.16" height="7.17" fill="#3853a9"/>
<rect x="65.55" y="317.80" width="7.16" height="7.17" fill="#7b80c0"/>
<rect x="72.69" y="317.80" width="7.16" height="7.17" fill="#7b80c0"/>
<rect x="79.83" y="317.80" width="7.16" height="7.17" fill="#3853a9"/>
<rect x="86.98" y="317.80" width="7.16" height="7.17" fill="#5765b3"/>
<rect x="94.12" y="317.80" width="7.16" height="7.17" fill="#3853a9"/>
<rect x="101.27" y="317.80" width="7.16" height="7.17" fill="#3853a9"/>
<rect x="108.41" y="317.80" width="7.16" height="7.17" fill="#3853a9"/>
<rect x="115.56" y="317.80" width="7.16" height="7.17" fill="#5765b3"/>
<rect x="122.70" y="317.80" width="7.16" height="7.17" fill="#3853a9"/>
<rect x="129.85" y="317.80" width="7.16" height="7.17" fill="#5765b3"/>
<rect x="137.00" y="317.80" width="7.16" height="7.17" fill="#5765b3"/>
<rect x="144.14" y="317.80" width="7.16" height="7.17" fill="#5765b3"/>
<rect x="151.28" y="317.80" width="7.16" height="7.17" fill="#3853a9"/>
<rect x="158.43" y="317.80" width="7.16" height="7.17" fill="#f4f2f7"/>
<rect x="165.57" y="317.80" width="7.16" height="7.17" fill="#3853a9"/>
<rect x="172.72" y="317.80" width="7.16" height="7.17" fill="#f71f25"/>
<rect x="179.86" y="317.80" width="7.16" height="7.17" fill="#f4f2f7"/>
<rect x="187.01" y="317.80" width="7.16" height="7.17" fill="#3853a9"/>
<rect x="194.16" y="317.80" width="7.16" height="7.17" fill="#3853a9"/>
<rect x="201.30" y="317.80" width="7.16" height="7.17" fill="#3853a9"/>
<rect x="208.44" y="317.80" width="7.16" height="7.17" fill="#5765b3"/>
<rect x="215.59" y="317.80" width="7.16" height="7.17" fill="#3853a9"/>
<rect x="222.73" y="317.80" width="7.16" height="7.17" fill="#3853a9"/>
<rect x="229.88" y="317.80" width="7.16" height="7.17" fill="#3853a9"/>
<rect x="237.03" y="317.80" width="7.16" height="7.17" fill="#3853a9"/>
<rect x="244.17" y="317.80" width="7.16" height="7.17" fill="#3853a9"/>
<rect x="251.31" y="317.80" width="7.16" height="7.17" fill="#5765b3"/>
<rect x="258.46" y="317.80" width="7.16" height="7.17" fill="#5765b3"/>
<rect x="265.60" y="317.80" width="7.16" height="7.17" fill="#5765b3"/>
<rect x="272.75" y="317.80" width="7.16" height="7.17" fill="#7b80c0"/>
<rect x="279.89" y="317.80" width="7.16" height="7.17" fill="#7b80c0"/>
<rect x="287.04" y="317.80" width="7.16" height="7.17" fill="#f71f25"/>
<rect x="294.19" y="317.80" width="7.16" height="7.17" fill="#7b80c0"/>
<rect x="301.33" y="317.80" width="7.16" height="7.17" fill="#f8c3c8"/>
<rect x="308.47" y="317.80" width="7.16" height="7.17" fill="#5765b3"/>
<rect x="315.62" y="317.80" width="7.16" height="7.17" fill="#3853a9"/>
<rect x="58.40" y="324.95" width="7.16" height="7.17" fill="#5765b3"/>
<rect x="65.55" y="324.95" width="7.16" height="7.17" fill="#7b80c0"/>
<rect x="72.69" y="324.95" width="7.16" height="7.17" fill="#5765b3"/>
<rect x="79.83" y="324.95" width="7.16" height="7.17" fill="#f71f25"/>
<rect x="86.98" y="324.95" width="7.16" height="7.17" fill="#f71f25"/>
<rect x="94.12" y="324.95" width="7.16" height="7.17" fill="#f71f25"/>
<rect x="101.27" y="324.95" width="7.16" height="7.17" fill="#f71f25"/>
<rect x="108.41" y="324.95" width="7.16" height="7.17" fill="#f71f25"/>
<rect x="115.56" y="324.95" width="7.16" height="7.17" fill="#f71f25"/>
<rect x="122.70" y="324.95" width="7.16" height="7.17" fill="#f71f25"/>
<rect x="129.85" y="324.95" width="7.16" height="7.17" fill="#f4f2f7"/>
<rect x="137.00" y="324.95" width="7.16" height="7.17" fill="#3853a9"/>
<rect x="144.14" y="324.95" width="7.16" height="7.17" fill="#5765b3"/>
<rect x="151.28" y="324.95" width="7.16" height="7.17" fill="#3853a9"/>
<rect x="158.43" y="324.95" width="7.16" height="7.17" fill="#5765b3"/>
<rect x="165.57" y="324.95" width="7.16" height="7.17" fill="#5765b3"/>
<rect x="172.72" y="324.95" width="7.16" height="7.17" fill="#3853a9"/>
<rect x="179.86" y="324.95" width="7.16" height="7.17" fill="#5765b3"/>
<rect x="187.01" y="324.95" width="7.16" height="7.17" fill="#3853a9"/>
<rect x="194.16" y="324.95" width="7.16" height="7.17" fill="#7b80c0"/>
<rect x="201.30" y="324.95" width="7.16" height="7.17" fill="#d3d3ea"/>
<rect x="208.44" y="324.95" width="7.16" height="7.17" fill="#d3d3ea"/>
<rect x="215.59" y="324.95" width="7.16" height="7.17" fill="#5765b3"/>
<rect x="222.73" y="324.95" width="7.16" height="7.17" fill="#5765b3"/>
<rect x="229.88" y="324.95" width="7.16" height="7.17" fill="#5765b3"/>
<rect x="237.03" y="324.95" width="7.16" height="7.17" fill="#3853a9"/>
<rect x="244.17" y="324.95" width="7.16" height="7.17" fill="#5765b3"/>
<rect x="251.31" y="324.95" width="7.16" height="7.17" fill="#5765b3"/>
<rect x="258.46" y="324.95" width="7.16" height="7.17" fill="#5765b3"/>
<rect x="265.60" y="324.95" width="7.16" height="7.17" fill="#3853a9"/>
<rect x="272.75" y="324.95" width="7.16" height="7.17" fill="#5765b3"/>
<rect x="279.89" y="324.95" width="7.16" height="7.17" fill="#5765b3"/>
<rect x="287.04" y="324.95" width="7.16" height="7.17" fill="#3853a9"/>
<rect x="294.19" y="324.95" width="7.16" height="7.17" fill="#5765b3"/>
<rect x="301.33" y="324.95" width="7.16" height="7.17" fill="#3853a9"/>
<rect x="308.47" y="324.95" width="7.16" height="7.17" fill="#5765b3"/>
<rect x="315.62" y="324.95" width="7.16" height="7.17" fill="#5765b3"/>
<rect x="58.40" y="332.10" width="7.16" height="7.17" fill="#5765b3"/>
<rect x="65.55" y="332.10" width="7.16" height="7.17" fill="#d3d3ea"/>
<rect x="72.69" y="332.10" width="7.16" height="7.17" fill="#3853a9"/>
<rect x="79.83" y="332.10" width="7.16" height="7.17" fill="#3853a9"/>
<rect x="86.98" y="332.10" width="7.16" height="7.17" fill="#5765b3"/>
<rect x="94.12" y="332.10" width="7.16" height="7.17" fill="#5765b3"/>
<rect x="101.27" y="332.10" width="7.16" height="7.17" fill="#5765b3"/>
<rect x="108.41" y="332.10" width="7.16" height="7.17" fill="#5765b3"/>
<rect x="115.56" y="332.10" width="7.16" height="7.17" fill="#3853a9"/>
<rect x="122.70" y="332.10" width="7.16" height="7.17" fill="#d3d3ea"/>
<rect x="129.85" y="332.10" width="7.16" height="7.17" fill="#f71f25"/>
<rect x="137.00" y="332.10" width="7.16" height="7.17" fill="#5765b3"/>
<rect x="144.14" y="332.10" width="7.16" height="7.17" fill="#3853a9"/>
<rect x="151.28" y="332.10" width="7.16" height="7.17" fill="#5765b3"/>
<rect x="158.43" y="332.10" width="7.16" height="7.17" fill="#3853a9"/>
<rect x="165.57" y="332.10" width="7.16" height="7.17" fill="#5765b3"/>
<rect x="172.72" y="332.10" width="7.16" height="7.17" fill="#3853a9"/>
<rect x="179.86" y="332.10" width="7.16" height="7.17" fill="#5765b3"/>
<rect x="187.01" y="332.10" width="7.16" height="7.17" fill="#3853a9"/>
<rect x="194.16" y="332.10" width="7.16" height="7.17" fill="#3853a9"/>
<rect x="201.30" y="332.10" width="7.16" height="7.17" fill="#5765b3"/>
<rect x="208.44" y="332.10" width="7.16" height="7.17" fill="#5765b3"/>
<rect x="215.59" y="332.10" width="7.16" height="7.17" fill="#3853a9"/>
<rect x="222.73" y="332.10" width="7.16" height="7.17" fill="#5765b3"/>
<rect x="229.88" y="332.10" width="7.16" height="7.17" fill="#7b80c0"/>
<rect x="237.03" y="332.10" width="7.16" height="7.17" fill="#7b80c0"/>
<rect x="244.17" y="332.10" width="7.16" height="7.17" fill="#3853a9"/>
<rect x="251.31" y="332.10" width="7.16" height="7.17" fill="#3853a9"/>
<rect x="258.46" y="332.10" width="7.16" height="7.17" fill="#3853a9"/>
<rect x="265.60" y="332.10" width="7.16" height="7.17" fill="#3853a9"/>
<rect x="272.75" y="332.10" width="7.16" height="7.17" fill="#3853a9"/>
<rect x="279.89" y="332.10" width="7.16" height="7.17" fill="#a6a8d6"/>
<rect x="287.04" y="332.10" width="7.16" height="7.17" fill="#3853a9"/>
<rect x="294.19" y="332.10" width="7.16" height="7.17" fill="#3853a9"/>
<rect x="301.33" y="332.10" width="7.16" height="7.17" fill="#3853a9"/>
<rect x="308.47" y="332.10" width="7.16" height="7.17" fill="#3853a9"/>
<rect x="315.62" y="332.10" width="7.16" height="7.17" fill="#3853a9"/>
<rect x="58.40" y="339.25" width="7.16" height="7.17" fill="#f8c3c8"/>
<rect x="65.55" y="339.25" width="7.16" height="7.17" fill="#7b80c0"/>
<rect x="72.69" y="339.25" width="7.16" height="7.17" fill="#7b80c0"/>
<rect x="79.83" y="339.25" width="7.16" height="7.17" fill="#3853a9"/>
<rect x="86.98" y="339.25" width="7.16" height="7.17" fill="#3853a9"/>
<rect x="94.12" y="339.25" width="7.16" height="7.17" fill="#f4f2f7"/>
<rect x="101.27" y="339.25" width="7.16" height="7.17" fill="#3853a9"/>
<rect x="108.41" y="339.25" width="7.16" height="7.17" fill="#7b80c0"/>
<rect x="115.56" y="339.25" width="7.16" height="7.17" fill="#7b80c0"/>
<rect x="122.70" y="339.25" width="7.16" height="7.17" fill="#5765b3"/>
<rect x="129.85" y="339.25" width="7.16" height="7.17" fill="#7b80c0"/>
<rect x="137.00" y="339.25" width="7.16" height="7.17" fill="#f8c3c8"/>
<rect x="144.14" y="339.25" width="7.16" height="7.17" fill="#f4f2f7"/>
<rect x="151.28" y="339.25" width="7.16" height="7.17" fill="#7b80c0"/>
<rect x="158.43" y="339.25" width="7.16" height="7.17" fill="#f8c3c8"/>
<rect x="165.57" y="339.25" width="7.16" height="7.17" fill="#f4f2f7"/>
<rect x="172.72" y="339.25" width="7.16" height="7.17" fill="#f8c3c8"/>
<rect x="179.86" y="339.25" width="7.16" height="7.17" fill="#3853a9"/>
<rect x="187.01" y="339.25" width="7.16" height="7.17" fill="#3853a9"/>
<rect x="194.16" y="339.25" width="7.16" height="7.17" fill="#3853a9"/>
<rect x="201.30" y="339.25" width="7.16" height="7.17" fill="#5765b3"/>
<rect x="208.44" y="339.25" width="7.16" height="7.17" fill="#5765b3"/>
<rect x="215.59" y="339.25" width="7.16" height="7.17" fill="#3853a9"/>
<rect x="222.73" y="339.25" width="7.16" height="7.17" fill="#3853a9"/>
<rect x="229.88" y="339.25" width="7.16" height="7.17" fill="#a6a8d6"/>
<rect x="237.03" y="339.25" width="7.16" height="7.17" fill="#7b80c0"/>
<rect x="244.17" y="339.25" width="7.16" height="7.17" fill="#3853a9"/>
<rect x="251.31" y="339.25" width="7.16" height="7.17" fill="#f71f25"/>
<rect x="258.46" y="339.25" width="7.16" height="7.17" fill="#a6a8d6"/>
<rect x="265.60" y="339.25" width="7.16" height="7.17" fill="#3853a9"/>
<rect x="272.75" y="339.25" width="7.16" height="7.17" fill="#7b80c0"/>
<rect x="279.89" y="339.25" width="7.16" height="7.17" fill="#3853a9"/>
<rect x="287.04" y="339.25" width="7.16" height="7.17" fill="#5765b3"/>
<rect x="294.19" y="339.25" width="7.16" height="7.17" fill="#5765b3"/>
<rect x="301.33" y="339.25" width="7.16" height="7.17" fill="#3853a9"/>
<rect x="308.47" y="339.25" width="7.16" height="7.17" fill="#5765b3"/>
<rect x="315.62" y="339.25" width="7.16" height="7.17" fill="#5765b3"/>
<rect x="58.40" y="346.40" width="7.16" height="7.17" fill="#5765b3"/>
<rect x="65.55" y="346.40" width="7.16" height="7.17" fill="#7b80c0"/>
<rect x="72.69" y="346.40" width="7.16" height="7.17" fill="#7b80c0"/>
<rect x="79.83" y="346.40" width="7.16" height="7.17" fill="#3853a9"/>
<rect x="86.98" y="346.40" width="7.16" height="7.17" fill="#3853a9"/>
<rect x="94.12" y="346.40" width="7.16" height="7.17" fill="#a6a8d6"/>
<rect x="101.27" y="346.40" width="7.16" height="7.17" fill="#3853a9"/>
<rect x="108.41" y="346.40" width="7.16" height="7.17" fill="#5765b3"/>
<rect x="115.56" y="346.40" width="7.16" height="7.17" fill="#3853a9"/>
<rect x="122.70" y="346.40" width="7.16" height="7.17" fill="#3853a9"/>
<rect x="129.85" y="346.40" width="7.16" height="7.17" fill="#5765b3"/>
<rect x="137.00" y="346.40" width="7.16" height="7.17" fill="#5765b3"/>
<rect x="144.14" y="346.40" width="7.16" height="7.17" fill="#5765b3"/>
<rect x="151.28" y="346.40" width="7.16" height="7.17" fill="#d3d3ea"/>
<rect x="158.43" y="346.40" width="7.16" height="7.17" fill="#5765b3"/>
<rect x="165.57" y="346.40" width="7.16" height="7.17" fill="#f71f25"/>
<rect x="172.72" y="346.40" width="7.16" height="7.17" fill="#d3d3ea"/>
<rect x="179.86" y="346.40" width="7.16" height="7.17" fill="#3853a9"/>
<rect x="187.01" y="346.40" width="7.16" height="7.17" fill="#5765b3"/>
<rect x="194.16" y="346.40" width="7.16" height="7.17" fill="#5765b3"/>
<rect x="201.30" y="346.40" width="7.16" height="7.17" fill="#3853a9"/>
<rect x="208.44" y="346.40" width="7.16" height="7.17" fill="#5765b3"/>
<rect x="215.59" y="346.40" width="7.16" height="7.17" fill="#5765b3"/>
<rect x="222.73" y="346.40" width="7.16" height="7.17" fill="#5765b3"/>
<rect x="229.88" y="346.40" width="7.16" height="7.17" fill="#7b80c0"/>
<rect x="237.03" y="346.40" width="7.16" height="7.17" fill="#5765b3"/>
<rect x="244.17" y="346.40" width="7.16" height="7.17" fill="#7b80c0"/>
<rect x="251.31" y="346.40" width="7.16" height="7.17" fill="#5765b3"/>
<rect x="258.46" y="346.40" width="7.16" height="7.17" fill="#3853a9"/>
<rect x="265.60" y="346.40" width="7.16" height="7.17" fill="#5765b3"/>
<rect x="272.75" y="346.40" width="7.16" height="7.17" fill="#7b80c0"/>
<rect x="279.89" y="346.40" width="7.16" height="7.17" fill="#3853a9"/>
<rect x="287.04" y="346.40" width="7.16" height="7.17" fill="#3853a9"/>
<rect x="294.19" y="346.40" width="7.16" height="7.17" fill="#3853a9"/>
<rect x="301.33" y="346.40" width="7.16" height="7.17" fill="#5765b3"/>
<rect x="308.47" y="346.40" width="7.16" height="7.17" fill="#3853a9"/>
<rect x="315.62" y="346.40" width="7.16" height="7.17" fill="#5765b3"/>
<rect x="58.40" y="353.55" width="7.16" height="7.17" fill="#7b80c0"/>
<rect x="65.55" y="353.55" width="7.16" height="7.17" fill="#3853a9"/>
<rect x="72.69" y="353.55" width="7.16" height="7.17" fill="#a6a8d6"/>
<rect x="79.83" y="353.55" width="7.16" height="7.17" fill="#3853a9"/>
<rect x="86.98" y="353.55" width="7.16" height="7.17" fill="#f8c3c8"/>
<rect x="94.12" y="353.55" width="7.16" height="7.17" fill="#a6a8d6"/>
<rect x="101.27" y="353.55" width="7.16" height="7.17" fill="#a6a8d6"/>
<rect x="108.41" y="353.55" width="7.16" height="7.17" fill="#f25a60"/>
<rect x="115.56" y="353.55" width="7.16" height="7.17" fill="#f8c3c8"/>
<rect x="122.70" y="353.55" width="7.16" height="7.17" fill="#f25a60"/>
<rect x="129.85" y="353.55" width="7.16" height="7.17" fill="#5765b3"/>
<rect x="137.00" y="353.55" width="7.16" height="7.17" fill="#d3d3ea"/>
<rect x="144.14" y="353.55" width="7.16" height="7.17" fill="#f8c3c8"/>
<rect x="151.28" y="353.55" width="7.16" height="7.17" fill="#f4959b"/>
<rect x="158.43" y="353.55" width="7.16" height="7.17" fill="#f4959b"/>
<rect x="165.57" y="353.55" width="7.16" height="7.17" fill="#7b80c0"/>
<rect x="172.72" y="353.55" width="7.16" height="7.17" fill="#7b80c0"/>
<rect x="179.86" y="353.55" width="7.16" height="7.17" fill="#f71f25"/>
<rect x="187.01" y="353.55" width="7.16" height="7.17" fill="#5765b3"/>
<rect x="194.16" y="353.55" width="7.16" height="7.17" fill="#3853a9"/>
<rect x="201.30" y="353.55" width="7.16" height="7.17" fill="#3853a9"/>
<rect x="208.44" y="353.55" width="7.16" height="7.17" fill="#3853a9"/>
<rect x="215.59" y="353.55" width="7.16" height="7.17" fill="#5765b3"/>
<rect x="222.73" y="353.55" width="7.16" height="7.17" fill="#f4f2f7"/>
<rect x="229.88" y="353.55" width="7.16" height="7.17" fill="#3853a9"/>
<rect x="237.03" y="353.55" width="7.16" height="7.17" fill="#5765b3"/>
<rect x="244.17" y="353.55" width="7.16" height="7.17" fill="#5765b3"/>
<rect x="251.31" y="353.55" width="7.16" height="7.17" fill="#5765b3"/>
<rect x="258.46" y="353.55" width="7.16" height="7.17" fill="#3853a9"/>
<rect x="265.60" y="353.55" width="7.16" height="7.17" fill="#a6a8d6"/>
<rect x="272.75" y="353.55" width="7.16" height="7.17" fill="#f8c3c8"/>
<rect x="279.89" y="353.55" width="7.16" height="7.17" fill="#3853a9"/>
<rect x="287.04" y="353.55" width="7.16" height="7.17" fill="#5765b3"/>
<rect x="294.19" y="353.55" width="7.16" height="7.17" fill="#3853a9"/>
<rect x="301.33" y="353.55" width="7.16" height="7.17" fill="#3853a9"/>
<rect x="308.47" y="353.55" width="7.16" height="7.17" fill="#3853a9"/>
<rect x="315.62" y="353.55" width="7.16" height="7.17" fill="#5765b3"/>
<rect x="58.40" y="360.70" width="7.16" height="7.17" fill="#f4959b"/>
<rect x="65.55" y="360.70" width="7.16" height="7.17" fill="#f4f2f7"/>
<rect x="72.69" y="360.70" width="7.16" height="7.17" fill="#5765b3"/>
<rect x="79.83" y="360.70" width="7.16" height="7.17" fill="#3853a9"/>
<rect x="86.98" y="360.70" width="7.16" height="7.17" fill="#d3d3ea"/>
<rect x="94.12" y="360.70" width="7.16" height="7.17" fill="#a6a8d6"/>
<rect x="101.27" y="360.70" width="7.16" height="7.17" fill="#f8c3c8"/>
<rect x="108.41" y="360.70" width="7.16" height="7.17" fill="#f4959b"/>
<rect x="115.56" y="360.70" width="7.16" height="7.17" fill="#f4f2f7"/>
<rect x="122.70" y="360.70" width="7.16" height="7.17" fill="#f4959b"/>
<rect x="129.85" y="360.70" width="7.16" height="7.17" fill="#f4f2f7"/>
<rect x="137.00" y="360.70" width="7.16" height="7.17" fill="#a6a8d6"/>
<rect x="144.14" y="360.70" width="7.16" height="7.17" fill="#5765b3"/>
<rect x="151.28" y="360.70" width="7.16" height="7.17" fill="#f8c3c8"/>
<rect x="158.43" y="360.70" width="7.16" height="7.17" fill="#f4f2f7"/>
<rect x="165.57" y="360.70" width="7.16" height="7.17" fill="#a6a8d6"/>
<rect x="172.72" y="360.70" width="7.16" height="7.17" fill="#a6a8d6"/>
<rect x="179.86" y="360.70" width="7.16" height="7.17" fill="#f71f25"/>
<rect x="187.01" y="360.70" width="7.16" height="7.17" fill="#5765b3"/>
<rect x="194.16" y="360.70" width="7.16" height="7.17" fill="#5765b3"/>
<rect x="201.30" y="360.70" width="7.16" height="7.17" fill="#3853a9"/>
<rect x="208.44" y="360.70" width="7.16" height="7.17" fill="#5765b3"/>
<rect x="215.59" y="360.70" width="7.16" height="7.17" fill="#3853a9"/>
<rect x="222.73" y="360.70" width="7.16" height="7.17" fill="#5765b3"/>
<rect x="229.88" y="360.70" width="7.16" height="7.17" fill="#7b80c0"/>
<rect x="237.03" y="360.70" width="7.16" height="7.17" fill="#5765b3"/>
<rect x="244.17" y="360.70" width="7.16" height="7.17" fill="#7b80c0"/>
<rect x="251.31" y="360.70" width="7.16" height="7.17" fill="#5765b3"/>
<rect x="258.46" y="360.70" width="7.16" height="7.17" fill="#3853a9"/>
<rect x="265.60" y="360.70" width="7.16" height="7.17" fill="#a6a8d6"/>
<rect x="272.75" y="360.70" width="7.16" height="7.17" fill="#f4f2f7"/>
<rect x="279.89" y="360.70" width="7.16" height="7.17" fill="#d3d3ea"/>
<rect x="287.04" y="360.70" width="7.16" height="7.17" fill="#5765b3"/>
<rect x="294.19" y="360.70" width="7.16" height="7.17" fill="#5765b3"/>
<rect x="301.33" y="360.70" width="7.16" height="7.17" fill="#3853a9"/>
<rect x="308.47" y="360.70" width="7.16" height="7.17" fill="#3853a9"/>
<rect x="315.62" y="360.70" width="7.16" height="7.17" fill="#5765b3"/>
<rect x="58.40" y="367.85" width="7.16" height="7.17" fill="#f4f2f7"/>
<rect x="65.55" y="367.85" width="7.16" height="7.17" fill="#a6a8d6"/>
<rect x="72.69" y="367.85" width="7.16" height="7.17" fill="#3853a9"/>
<rect x="79.83" y="367.85" width="7.16" height="7.17" fill="#3853a9"/>
<rect x="86.98" y="367.85" width="7.16" height="7.17" fill="#a6a8d6"/>
<rect x="94.12" y="367.85" width="7.16" height="7.17" fill="#a6a8d6"/>
<rect x="101.27" y="367.85" width="7.16" height="7.17" fill="#d3d3ea"/>
<rect x="108.41" y="367.85" width="7.16" height="7.17" fill="#a6a8d6"/>
<rect x="115.56" y="367.85" width="7.16" height="7.17" fill="#f4f2f7"/>
<rect x="122.70" y="367.85" width="7.16" height="7.17" fill="#d3d3ea"/>
<rect x="129.85" y="367.85" width="7.16" height="7.17" fill="#7b80c0"/>
<rect x="137.00" y="367.85" width="7.16" height="7.17" fill="#f4f2f7"/>
<rect x="144.14" y="367.85" width="7.16" height="7.17" fill="#f71f25"/>
<rect x="151.28" y="367.85" width="7.16" height="7.17" fill="#f71f25"/>
<rect x="158.43" y="367.85" width="7.16" height="7.17" fill="#a6a8d6"/>
<rect x="165.57" y="367.85" width="7.16" height="7.17" fill="#f4f2f7"/>
<rect x="172.72" y="367.85" width="7.16" height="7.17" fill="#a6a8d6"/>
<rect x="179.86" y="367.85" width="7.16" height="7.17" fill="#d3d3ea"/>
<rect x="187.01" y="367.85" width="7.16" height="7.17" fill="#5765b3"/>
<rect x="194.16" y="367.85" width="7.16" height="7.17" fill="#5765b3"/>
<rect x="201.30" y="367.85" width="7.16" height="7.17" fill="#5765b3"/>
<rect x="208.44" y="367.85" width="7.16" height="7.17" fill="#5765b3"/>
<rect x="215.59" y="367.85" width="7.16" height="7.17" fill="#5765b3"/>
<rect x="222.73" y="367.85" width="7.16" height="7.17" fill="#5765b3"/>
<rect x="229.88" y="367.85" width="7.16" height="7.17" fill="#7b80c0"/>
<rect x="237.03" y="367.85" width="7.16" height="7.17" fill="#5765b3"/>
<rect x="244.17" y="367.85" width="7.16" height="7.17" fill="#3853a9"/>
<rect x="251.31" y="367.85" width="7.16" height="7.17" fill="#5765b3"/>
<rect x="258.46" y="367.85" width="7.16" height="7.17" fill="#3853a9"/>
<rect x="265.60" y="367.85" width="7.16" height="7.17" fill="#d3d3ea"/>
<rect x="272.75" y="367.85" width="7.16" height="7.17" fill="#5765b3"/>
<rect x="279.89" y="367.85" width="7.16" height="7.17" fill="#5765b3"/>
<rect x="287.04" y="367.85" width="7.16" height="7.17" fill="#3853a9"/>
<rect x="294.19" y="367.85" width="7.16" height="7.17" fill="#5765b3"/>
<rect x="301.33" y="367.85" width="7.16" height="7.17" fill="#5765b3"/>
<rect x="308.47" y="367.85" width="7.16" height="7.17" fill="#5765b3"/>
<rect x="315.62" y="367.85" width="7.16" height="7.17" fill="#5765b3"/>
<rect x="58.40" y="375.00" width="7.16" height="7.17" fill="#5765b3"/>
<rect x="65.55" y="375.00" width="7.16" height="7.17" fill="#3853a9"/>
<rect x="72.69" y="375.00" width="7.16" height="7.17" fill="#3853a9"/>
<rect x="79.83" y="375.00" width="7.16" height="7.17" fill="#3853a9"/>
<rect x="86.98" y="375.00" width="7.16" height="7.17" fill="#a6a8d6"/>
<rect x="94.12" y="375.00" width="7.16" height="7.17" fill="#f4f2f7"/>
<rect x="101.27" y="375.00" width="7.16" height="7.17" fill="#a6a8d6"/>
<rect x="108.41" y="375.00" width="7.16" height="7.17" fill="#f4f2f7"/>
<rect x="115.56" y="375.00" width="7.16" height="7.17" fill="#7b80c0"/>
<rect x="122.70" y="375.00" width="7.16" height="7.17" fill="#a6a8d6"/>
<rect x="129.85" y="375.00" width="7.16" height="7.17" fill="#a6a8d6"/>
<rect x="137.00" y="375.00" width="7.16" height="7.17" fill="#f4959b"/>
<rect x="144.14" y="375.00" width="7.16" height="7.17" fill="#d3d3ea"/>
<rect x="151.28" y="375.00" width="7.16" height="7.17" fill="#f4f2f7"/>
<rect x="158.43" y="375.00" width="7.16" height="7.17" fill="#d3d3ea"/>
<rect x="165.57" y="375.00" width="7.16" height="7.17" fill="#f71f25"/>
<rect x="172.72" y="375.00" width="7.16" height="7.17" fill="#f4f2f7"/>
<rect x="179.86" y="375.00" width="7.16" height="7.17" fill="#7b80c0"/>
<rect x="187.01" y="375.00" width="7.16" height="7.17" fill="#5765b3"/>
<rect x="194.16" y="375.00" width="7.16" height="7.17" fill="#5765b3"/>
<rect x="201.30" y="375.00" width="7.16" height="7.17" fill="#a6a8d6"/>
<rect x="208.44" y="375.00" width="7.16" height="7.17" fill="#5765b3"/>
<rect x="215.59" y="375.00" width="7.16" height="7.17" fill="#5765b3"/>
<rect x="222.73" y="375.00" width="7.16" height="7.17" fill="#5765b3"/>
<rect x="229.88" y="375.00" width="7.16" height="7.17" fill="#a6a8d6"/>
<rect x="237.03" y="375.00" width="7.16" height="7.17" fill="#d3d3ea"/>
<rect x="244.17" y="375.00" width="7.16" height="7.17" fill="#3853a9"/>
<rect x="251.31" y="375.00" width="7.16" height="7.17" fill="#5765b3"/>
<rect x="258.46" y="375.00" width="7.16" height="7.17" fill="#3853a9"/>
<rect x="265.60" y="375.00" width="7.16" height="7.17" fill="#f4f2f7"/>
<rect x="272.75" y="375.00" width="7.16" height="7.17" fill="#d3d3ea"/>
<rect x="279.89" y="375.00" width="7.16" height="7.17" fill="#3853a9"/>
<rect x="287.04" y="375.00" width="7.16" height="7.17" fill="#f25a60"/>
<rect x="294.19" y="375.00" width="7.16" height="7.17" fill="#7b80c0"/>
<rect x="301.33" y="375.00" width="7.16" height="7.17" fill="#3853a9"/>
<rect x="308.47" y="375.00" width="7.16" height="7.17" fill="#3853a9"/>
<rect x="315.62" y="375.00" width="7.16" height="7.17" fill="#5765b3"/>
<rect x="58.40" y="382.15" width="7.16" height="7.17" fill="#5765b3"/>
<rect x="65.55" y="382.15" width="7.16" height="7.17" fill="#3853a9"/>
<rect x="72.69" y="382.15" width="7.16" height="7.17" fill="#3853a9"/>
<rect x="79.83" y="382.15" width="7.16" height="7.17" fill="#3853a9"/>
<rect x="86.98" y="382.15" width="7.16" height="7.17" fill="#f4f2f7"/>
<rect x="94.12" y="382.15" width="7.16" height="7.17" fill="#a6a8d6"/>
<rect x="101.27" y="382.15" width="7.16" height="7.17" fill="#f25a60"/>
<rect x="108.41" y="382.15" width="7.16" height="7.17" fill="#f4f2f7"/>
<rect x="115.56" y="382.15" width="7.16" height="7.17" fill="#f4f2f7"/>
<rect x="122.70" y="382.15" width="7.16" height="7.17" fill="#f8c3c8"/>
<rect x="129.85" y="382.15" width="7.16" height="7.17" fill="#f4959b"/>
<rect x="137.00" y="382.15" width="7.16" height="7.17" fill="#f71f25"/>
<rect x="144.14" y="382.15" width="7.16" height="7.17" fill="#f4959b"/>
<rect x="151.28" y="382.15" width="7.16" height="7.17" fill="#f8c3c8"/>
<rect x="158.43" y="382.15" width="7.16" height="7.17" fill="#f71f25"/>
<rect x="165.57" y="382.15" width="7.16" height="7.17" fill="#f8c3c8"/>
<rect x="172.72" y="382.15" width="7.16" height="7.17" fill="#a6a8d6"/>
<rect x="179.86" y="382.15" width="7.16" height="7.17" fill="#a6a8d6"/>
<rect x="187.01" y="382.15" width="7.16" height="7.17" fill="#5765b3"/>
<rect x="194.16" y="382.15" width="7.16" height="7.17" fill="#5765b3"/>
<rect x="201.30" y="382.15" width="7.16" height="7.17" fill="#f4f2f7"/>
<rect x="208.44" y="382.15" width="7.16" height="7.17" fill="#3853a9"/>
<rect x="215.59" y="382.15" width="7.16" height="7.17" fill="#5765b3"/>
<rect x="222.73" y="382.15" width="7.16" height="7.17" fill="#5765b3"/>
<rect x="229.88" y="382.15" width="7.16" height="7.17" fill="#7b80c0"/>
<rect x="237.03" y="382.15" width="7.16" height="7.17" fill="#7b80c0"/>
<rect x="244.17" y="382.15" width="7.16" height="7.17" fill="#5765b3"/>
<rect x="251.31" y="382.15" width="7.16" height="7.17" fill="#5765b3"/>
<rect x="258.46" y="382.15" width="7.16" height="7.17" fill="#3853a9"/>
<rect x="265.60" y="382.15" width="7.16" height="7.17" fill="#a6a8d6"/>
<rect x="272.75" y="382.15" width="7.16" height="7.17" fill="#f4f2f7"/>
<rect x="279.89" y="382.15" width="7.16" height="7.17" fill="#3853a9"/>
<rect x="287.04" y="382.15" width="7.16" height="7.17" fill="#3853a9"/>
<rect x="294.19" y="382.15" width="7.16" height="7.17" fill="#3853a9"/>
<rect x="301.33" y="382.15" width="7.16" height="7.17" fill="#3853a9"/>
<rect x="308.47" y="382.15" width="7.16" height="7.17" fill="#3853a9"/>
<rect x="315.62" y="382.15" width="7.16" height="7.17" fill="#5765b3"/>
<rect x="58.40" y="389.30" width="7.16" height="7.17" fill="#f4f2f7"/>
<rect x="65.55" y="389.30" width="7.16" height="7.17" fill="#7b80c0"/>
<rect x="72.69" y="389.30" width="7.16" height="7.17" fill="#3853a9"/>
<rect x="79.83" y="389.30" width="7.16" height="7.17" fill="#3853a9"/>
<rect x="86.98" y="389.30" width="7.16" height="7.17" fill="#f4f2f7"/>
<rect x="94.12" y="389.30" width="7.16" height="7.17" fill="#a6a8d6"/>
<rect x="101.27" y="389.30" width="7.16" height="7.17" fill="#5765b3"/>
<rect x="108.41" y="389.30" width="7.16" height="7.17" fill="#5765b3"/>
<rect x="115.56" y="389.30" width="7.16" height="7.17" fill="#5765b3"/>
<rect x="122.70" y="389.30" width="7.16" height="7.17" fill="#f4f2f7"/>
<rect x="129.85" y="389.30" width="7.16" height="7.17" fill="#3853a9"/>
<rect x="137.00" y="389.30" width="7.16" height="7.17" fill="#d3d3ea"/>
<rect x="144.14" y="389.30" width="7.16" height="7.17" fill="#5765b3"/>
<rect x="151.28" y="389.30" width="7.16" height="7.17" fill="#f8c3c8"/>
<rect x="158.43" y="389.30" width="7.16" height="7.17" fill="#a6a8d6"/>
<rect x="165.57" y="389.30" width="7.16" height="7.17" fill="#3853a9"/>
<rect x="172.72" y="389.30" width="7.16" height="7.17" fill="#5765b3"/>
<rect x="179.86" y="389.30" width="7.16" height="7.17" fill="#f4f2f7"/>
<rect x="187.01" y="389.30" width="7.16" height="7.17" fill="#f71f25"/>
<rect x="194.16" y="389.30" width="7.16" height="7.17" fill="#7b80c0"/>
<rect x="201.30" y="389.30" width="7.16" height="7.17" fill="#5765b3"/>
<rect x="208.44" y="389.30" width="7.16" height="7.17" fill="#7b80c0"/>
<rect x="215.59" y="389.30" width="7.16" height="7.17" fill="#5765b3"/>
<rect x="222.73" y="389.30" width="7.16" height="7.17" fill="#7b80c0"/>
<rect x="229.88" y="389.30" width="7.16" height="7.17" fill="#3853a9"/>
<rect x="237.03" y="389.30" width="7.16" height="7.17" fill="#3853a9"/>
<rect x="244.17" y="389.30" width="7.16" height="7.17" fill="#7b80c0"/>
<rect x="251.31" y="389.30" width="7.16" height="7.17" fill="#7b80c0"/>
<rect x="258.46" y="389.30" width="7.16" height="7.17" fill="#3853a9"/>
<rect x="265.60" y="389.30" width="7.16" height="7.17" fill="#f4f2f7"/>
<rect x="272.75" y="389.30" width="7.16" height="7.17" fill="#5765b3"/>
<rect x="279.89" y="389.30" width="7.16" height="7.17" fill="#5765b3"/>
<rect x="287.04" y="389.30" width="7.16" height="7.17" fill="#3853a9"/>
<rect x="294.19" y="389.30" width="7.16" height="7.17" fill="#7b80c0"/>
<rect x="301.33" y="389.30" width="7.16" height="7.17" fill="#5765b3"/>
<rect x="308.47" y="389.30" width="7.16" height="7.17" fill="#3853a9"/>
<rect x="315.62" y="389.30" width="7.16" height="7.17" fill="#5765b3"/>
<rect x="58.40" y="396.45" width="7.16" height="7.17" fill="#f71f25"/>
<rect x="65.55" y="396.45" width="7.16" height="7.17" fill="#f4f2f7"/>
<rect x="72.69" y="396.45" width="7.16" height="7.17" fill="#7b80c0"/>
<rect x="79.83" y="396.45" width="7.16" height="7.17" fill="#5765b3"/>
<rect x="86.98" y="396.45" width="7.16" height="7.17" fill="#f25a60"/>
<rect x="94.12" y="396.45" width="7.16" height="7.17" fill="#f4f2f7"/>
<rect x="101.27" y="396.45" width="7.16" height="7.17" fill="#f4f2f7"/>
<rect x="108.41" y="396.45" width="7.16" height="7.17" fill="#f8c3c8"/>
<rect x="115.56" y="396.45" width="7.16" height="7.17" fill="#f4f2f7"/>
<rect x="122.70" y="396.45" width="7.16" height="7.17" fill="#f25a60"/>
<rect x="129.85" y="396.45" width="7.16" height="7.17" fill="#5765b3"/>
<rect x="137.00" y="396.45" width="7.16" height="7.17" fill="#f8c3c8"/>
<rect x="144.14" y="396.45" width="7.16" height="7.17" fill="#5765b3"/>
<rect x="151.28" y="396.45" width="7.16" height="7.17" fill="#f71f25"/>
<rect x="158.43" y="396.45" width="7.16" height="7.17" fill="#a6a8d6"/>
<rect x="165.57" y="396.45" width="7.16" height="7.17" fill="#f4f2f7"/>
<rect x="172.72" y="396.45" width="7.16" height="7.17" fill="#5765b3"/>
<rect x="179.86" y="396.45" width="7.16" height="7.17" fill="#7b80c0"/>
<rect x="187.01" y="396.45" width="7.16" height="7.17" fill="#a6a8d6"/>
<rect x="194.16" y="396.45" width="7.16" height="7.17" fill="#a6a8d6"/>
<rect x="201.30" y="396.45" width="7.16" height="7.17" fill="#3853a9"/>
<rect x="208.44" y="396.45" width="7.16" height="7.17" fill="#7b80c0"/>
<rect x="215.59" y="396.45" width="7.16" height="7.17" fill="#7b80c0"/>
<rect x="222.73" y="396.45" width="7.16" height="7.17" fill="#d3d3ea"/>
<rect x="229.88" y="396.45" width="7.16" height="7.17" fill="#7b80c0"/>
<rect x="237.03" y="396.45" width="7.16" height="7.17" fill="#d3d3ea"/>
<rect x="244.17" y="396.45" width="7.16" height="7.17" fill="#f4f2f7"/>
<rect x="251.31" y="396.45" width="7.16" height="7.17" fill="#d3d3ea"/>
<rect x="258.46" y="396.45" width="7.16" height="7.17" fill="#3853a9"/>
<rect x="265.60" y="396.45" width="7.16" height="7.17" fill="#f4f2f7"/>
<rect x="272.75" y="396.45" width="7.16" height="7.17" fill="#5765b3"/>
<rect x="279.89" y="396.45" width="7.16" height="7.17" fill="#5765b3"/>
<rect x="287.04" y="396.45" width="7.16" height="7.17" fill="#5765b3"/>
<rect x="294.19" y="396.45" width="7.16" height="7.17" fill="#d3d3ea"/>
<rect x="301.33" y="396.45" width="7.16" height="7.17" fill="#5765b3"/>
<rect x="308.47" y="396.45" width="7.16" height="7.17" fill="#3853a9"/>
<rect x="315.62" y="396.45" width="7.16" height="7.17" fill="#7b80c0"/>
<rect x="58.40" y="403.60" width="7.16" height="7.17" fill="#f71f25"/>
<rect x="65.55" y="403.60" width="7.16" height="7.17" fill="#f8c3c8"/>
<rect x="72.69" y="403.60" width="7.16" height="7.17" fill="#f8c3c8"/>
<rect x="79.83" y="403.60" width="7.16" height="7.17" fill="#7b80c0"/>
<rect x="86.98" y="403.60" width="7.16" height="7.17" fill="#f71f25"/>
<rect x="94.12" y="403.60" width="7.16" height="7.17" fill="#f4f2f7"/>
<rect x="101.27" y="403.60" width="7.16" height="7.17" fill="#d3d3ea"/>
<rect x="108.41" y="403.60" width="7.16" height="7.17" fill="#d3d3ea"/>
<rect x="115.56" y="403.60" width="7.16" height="7.17" fill="#3853a9"/>
<rect x="122.70" y="403.60" width="7.16" height="7.17" fill="#f4f2f7"/>
<rect x="129.85" y="403.60" width="7.16" height="7.17" fill="#d3d3ea"/>
<rect x="137.00" y="403.60" width="7.16" height="7.17" fill="#d3d3ea"/>
<rect x="144.14" y="403.60" width="7.16" height="7.17" fill="#5765b3"/>
<rect x="151.28" y="403.60" width="7.16" height="7.17" fill="#f71f25"/>
<rect x="158.43" y="403.60" width="7.16" height="7.17" fill="#f4f2f7"/>
<rect x="165.57" y="403.60" width="7.16" height="7.17" fill="#5765b3"/>
<rect x="172.72" y="403.60" width="7.16" height="7.17" fill="#3853a9"/>
<rect x="179.86" y="403.60" width="7.16" height="7.17" fill="#5765b3"/>
<rect x="187.01" y="403.60" width="7.16" height="7.17" fill="#f4f2f7"/>
<rect x="194.16" y="403.60" width="7.16" height="7.17" fill="#f4f2f7"/>
<rect x="201.30" y="403.60" width="7.16" height="7.17" fill="#3853a9"/>
<rect x="208.44" y="403.60" width="7.16" height="7.17" fill="#a6a8d6"/>
<rect x="215.59" y="403.60" width="7.16" height="7.17" fill="#7b80c0"/>
<rect x="222.73" y="403.60" width="7.16" height="7.17" fill="#f4f2f7"/>
<rect x="229.88" y="403.60" width="7.16" height="7.17" fill="#d3d3ea"/>
<rect x="237.03" y="403.60" width="7.16" height="7.17" fill="#3853a9"/>
<rect x="244.17" y="403.60" width="7.16" height="7.17" fill="#f8c3c8"/>
<rect x="251.31" y="403.60" width="7.16" height="7.17" fill="#f8c3c8"/>
<rect x="258.46" y="403.60" width="7.16" height="7.17" fill="#3853a9"/>
<rect x="265.60" y="403.60" width="7.16" height="7.17" fill="#7b80c0"/>
<rect x="272.75" y="403.60" width="7.16" height="7.17" fill="#5765b3"/>
<rect x="279.89" y="403.60" width="7.16" height="7.17" fill="#5765b3"/>
<rect x="287.04" y="403.60" width="7.16" height="7.17" fill="#d3d3ea"/>
<rect x="294.19" y="403.60" width="7.16" height="7.17" fill="#5765b3"/>
<rect x="301.33" y="403.60" width="7.16" height="7.17" fill="#f4f2f7"/>
<rect x="308.47" y="403.60" width="7.16" height="7.17" fill="#3853a9"/>
<rect x="315.62" y="403.60" width="7.16" height="7.17" fill="#7b80c0"/>
</g>
<path d="M58.40 117.10V411.25M65.55 117.10V411.25M72.69 117.10V411.25M79.83 117.10V411.25M86.98 117.10V411.25M94.12 117.10V411.25M101.27 117.10V411.25M108.41 117.10V411.25M115.56 117.10V411.25M122.70 117.10V411.25M129.85 117.10V411.25M137.00 117.10V411.25M144.14 117.10V411.25M151.28 117.10V411.25M158.43 117.10V411.25M165.57 117.10V411.25M172.72 117.10V411.25M179.86 117.10V411.25M187.01 117.10V411.25M194.16 117.10V411.25M201.30 117.10V411.25M208.44 117.10V411.25M215.59 117.10V411.25M222.73 117.10V411.25M229.88 117.10V411.25M237.03 117.10V411.25M244.17 117.10V411.25M251.31 117.10V411.25M258.46 117.10V411.25M265.60 117.10V411.25M272.75 117.10V411.25M279.89 117.10V411.25M287.04 117.10V411.25M294.19 117.10V411.25M301.33 117.10V411.25M308.47 117.10V411.25M315.62 117.10V411.25M322.76 117.10V411.25M57.90 117.60H323.26M57.90 124.75H323.26M57.90 131.90H323.26M57.90 139.05H323.26M57.90 146.20H323.26M57.90 153.35H323.26M57.90 160.50H323.26M57.90 167.65H323.26M57.90 174.80H323.26M57.90 181.95H323.26M57.90 189.10H323.26M57.90 196.25H323.26M57.90 203.40H323.26M57.90 210.55H323.26M57.90 217.70H323.26M57.90 224.85H323.26M57.90 232.00H323.26M57.90 239.15H323.26M57.90 246.30H323.26M57.90 253.45H323.26M57.90 260.60H323.26M57.90 267.75H323.26M57.90 274.90H323.26M57.90 282.05H323.26M57.90 289.20H323.26M57.90 296.35H323.26M57.90 303.50H323.26M57.90 310.65H323.26M57.90 317.80H323.26M57.90 324.95H323.26M57.90 332.10H323.26M57.90 339.25H323.26M57.90 346.40H323.26M57.90 353.55H323.26M57.90 360.70H323.26M57.90 367.85H323.26M57.90 375.00H323.26M57.90 382.15H323.26M57.90 389.30H323.26M57.90 396.45H323.26M57.90 403.60H323.26M57.90 410.75H323.26" stroke="#ffffff" stroke-opacity="0.62" stroke-width="0.95" fill="none"/>
<g stroke="#e9e9e9" stroke-width="0.7">
<line x1="325" y1="117.60" x2="369" y2="117.60"/>
<line x1="325" y1="124.75" x2="369" y2="124.75"/>
<line x1="325" y1="131.90" x2="369" y2="131.90"/>
<line x1="325" y1="139.05" x2="369" y2="139.05"/>
<line x1="325" y1="146.20" x2="369" y2="146.20"/>
<line x1="325" y1="153.35" x2="369" y2="153.35"/>
<line x1="325" y1="160.50" x2="369" y2="160.50"/>
<line x1="325" y1="167.65" x2="369" y2="167.65"/>
<line x1="325" y1="174.80" x2="369" y2="174.80"/>
<line x1="325" y1="181.95" x2="369" y2="181.95"/>
<line x1="325" y1="189.10" x2="369" y2="189.10"/>
<line x1="325" y1="196.25" x2="369" y2="196.25"/>
<line x1="325" y1="203.40" x2="369" y2="203.40"/>
<line x1="325" y1="210.55" x2="369" y2="210.55"/>
<line x1="325" y1="217.70" x2="369" y2="217.70"/>
<line x1="325" y1="224.85" x2="369" y2="224.85"/>
<line x1="325" y1="232.00" x2="369" y2="232.00"/>
<line x1="325" y1="239.15" x2="369" y2="239.15"/>
<line x1="325" y1="246.30" x2="369" y2="246.30"/>
<line x1="325" y1="253.45" x2="369" y2="253.45"/>
<line x1="325" y1="260.60" x2="369" y2="260.60"/>
<line x1="325" y1="267.75" x2="369" y2="267.75"/>
<line x1="325" y1="274.90" x2="369" y2="274.90"/>
<line x1="325" y1="282.05" x2="369" y2="282.05"/>
<line x1="325" y1="289.20" x2="369" y2="289.20"/>
<line x1="325" y1="296.35" x2="369" y2="296.35"/>
<line x1="325" y1="303.50" x2="369" y2="303.50"/>
<line x1="325" y1="310.65" x2="369" y2="310.65"/>
<line x1="325" y1="317.80" x2="369" y2="317.80"/>
<line x1="325" y1="324.95" x2="369" y2="324.95"/>
<line x1="325" y1="332.10" x2="369" y2="332.10"/>
<line x1="325" y1="339.25" x2="369" y2="339.25"/>
<line x1="325" y1="346.40" x2="369" y2="346.40"/>
<line x1="325" y1="353.55" x2="369" y2="353.55"/>
<line x1="325" y1="360.70" x2="369" y2="360.70"/>
<line x1="325" y1="367.85" x2="369" y2="367.85"/>
<line x1="325" y1="375.00" x2="369" y2="375.00"/>
<line x1="325" y1="382.15" x2="369" y2="382.15"/>
<line x1="325" y1="389.30" x2="369" y2="389.30"/>
<line x1="325" y1="396.45" x2="369" y2="396.45"/>
<line x1="325" y1="403.60" x2="369" y2="403.60"/>
<line x1="325" y1="410.75" x2="369" y2="410.75"/>
<line x1="369" y1="117.6" x2="369" y2="410.75"/>
</g>
<text x="326.7" y="122.95" font-size="5.95" letter-spacing="-0.05" fill="#1a1a1a" stroke="#1a1a1a" stroke-width="0.1">EGF R</text>
<text x="326.7" y="130.11" font-size="5.95" letter-spacing="-0.05" fill="#1a1a1a" stroke="#1a1a1a" stroke-width="0.1">EphA2</text>
<text x="326.7" y="137.28" font-size="5.95" letter-spacing="-0.05" fill="#1a1a1a" stroke="#1a1a1a" stroke-width="0.1">EphA3</text>
<text x="326.7" y="144.44" font-size="5.95" letter-spacing="-0.05" fill="#1a1a1a" stroke="#1a1a1a" stroke-width="0.1">IGF-1 R</text>
<text x="326.7" y="151.60" font-size="5.95" letter-spacing="-0.05" fill="#1a1a1a" stroke="#1a1a1a" stroke-width="0.1">c-Ret</text>
<text x="326.7" y="158.76" font-size="5.95" letter-spacing="-0.05" fill="#1a1a1a" stroke="#1a1a1a" stroke-width="0.1">EphA1</text>
<text x="326.7" y="165.93" font-size="5.95" letter-spacing="-0.05" fill="#1a1a1a" stroke="#1a1a1a" stroke-width="0.1">Insulin R</text>
<text x="326.7" y="173.09" font-size="5.95" letter-spacing="-0.05" fill="#1a1a1a" stroke="#1a1a1a" stroke-width="0.1">ROR1</text>
<text x="326.7" y="180.25" font-size="5.95" letter-spacing="-0.05" fill="#1a1a1a" stroke="#1a1a1a" stroke-width="0.1">Axl</text>
<text x="326.7" y="187.42" font-size="5.95" letter-spacing="-0.05" fill="#1a1a1a" stroke="#1a1a1a" stroke-width="0.1">ROR2</text>
<text x="326.7" y="194.58" font-size="5.95" letter-spacing="-0.05" fill="#1a1a1a" stroke="#1a1a1a" stroke-width="0.1">EphA4</text>
<text x="326.7" y="201.74" font-size="5.95" letter-spacing="-0.05" fill="#1a1a1a" stroke="#1a1a1a" stroke-width="0.1">Tie-1</text>
<text x="326.7" y="208.91" font-size="5.95" letter-spacing="-0.05" fill="#1a1a1a" stroke="#1a1a1a" stroke-width="0.1">FGF R3</text>
<text x="326.7" y="216.07" font-size="5.95" letter-spacing="-0.05" fill="#1a1a1a" stroke="#1a1a1a" stroke-width="0.1">M-CSF R</text>
<text x="326.7" y="223.23" font-size="5.95" letter-spacing="-0.05" fill="#1a1a1a" stroke="#1a1a1a" stroke-width="0.1">FGF R4</text>
<text x="326.7" y="230.40" font-size="5.95" letter-spacing="-0.05" fill="#1a1a1a" stroke="#1a1a1a" stroke-width="0.1">MuSK</text>
<text x="326.7" y="237.56" font-size="5.95" letter-spacing="-0.05" fill="#1a1a1a" stroke="#1a1a1a" stroke-width="0.1">Flt-3</text>
<text x="326.7" y="244.72" font-size="5.95" letter-spacing="-0.05" fill="#1a1a1a" stroke="#1a1a1a" stroke-width="0.1">VEGF R3</text>
<text x="326.7" y="251.88" font-size="5.95" letter-spacing="-0.05" fill="#1a1a1a" stroke="#1a1a1a" stroke-width="0.1">EphB2</text>
<text x="326.7" y="259.05" font-size="5.95" letter-spacing="-0.05" fill="#1a1a1a" stroke="#1a1a1a" stroke-width="0.1">EphB6</text>
<text x="326.7" y="266.21" font-size="5.95" letter-spacing="-0.05" fill="#1a1a1a" stroke="#1a1a1a" stroke-width="0.1">ErbB4</text>
<text x="326.7" y="273.37" font-size="5.95" letter-spacing="-0.05" fill="#1a1a1a" stroke="#1a1a1a" stroke-width="0.1">FGF R1</text>
<text x="326.7" y="280.54" font-size="5.95" letter-spacing="-0.05" fill="#1a1a1a" stroke="#1a1a1a" stroke-width="0.1">FGF R2alpha</text>
<text x="326.7" y="287.70" font-size="5.95" letter-spacing="-0.05" fill="#1a1a1a" stroke="#1a1a1a" stroke-width="0.1">PDGF R alpha</text>
<text x="326.7" y="294.86" font-size="5.95" letter-spacing="-0.05" fill="#1a1a1a" stroke="#1a1a1a" stroke-width="0.1">PDGF R beta</text>
<text x="326.7" y="302.03" font-size="5.95" letter-spacing="-0.05" fill="#1a1a1a" stroke="#1a1a1a" stroke-width="0.1">EphB4</text>
<text x="326.7" y="309.19" font-size="5.95" letter-spacing="-0.05" fill="#1a1a1a" stroke="#1a1a1a" stroke-width="0.1">VEGF R1</text>
<text x="326.7" y="316.35" font-size="5.95" letter-spacing="-0.05" fill="#1a1a1a" stroke="#1a1a1a" stroke-width="0.1">VEGF R2</text>
<text x="326.7" y="323.51" font-size="5.95" letter-spacing="-0.05" fill="#1a1a1a" stroke="#1a1a1a" stroke-width="0.1">SCF R</text>
<text x="326.7" y="330.68" font-size="5.95" letter-spacing="-0.05" fill="#1a1a1a" stroke="#1a1a1a" stroke-width="0.1">Dtk</text>
<text x="326.7" y="337.84" font-size="5.95" letter-spacing="-0.05" fill="#1a1a1a" stroke="#1a1a1a" stroke-width="0.1">MSP R</text>
<text x="326.7" y="345.00" font-size="5.95" letter-spacing="-0.05" fill="#1a1a1a" stroke="#1a1a1a" stroke-width="0.1">ErbB2</text>
<text x="326.7" y="352.17" font-size="5.95" letter-spacing="-0.05" fill="#1a1a1a" stroke="#1a1a1a" stroke-width="0.1">ErbB3</text>
<text x="326.7" y="359.33" font-size="5.95" letter-spacing="-0.05" fill="#1a1a1a" stroke="#1a1a1a" stroke-width="0.1">EphA6</text>
<text x="326.7" y="366.49" font-size="5.95" letter-spacing="-0.05" fill="#1a1a1a" stroke="#1a1a1a" stroke-width="0.1">EphA7</text>
<text x="326.7" y="373.66" font-size="5.95" letter-spacing="-0.05" fill="#1a1a1a" stroke="#1a1a1a" stroke-width="0.1">TrkA</text>
<text x="326.7" y="380.82" font-size="5.95" letter-spacing="-0.05" fill="#1a1a1a" stroke="#1a1a1a" stroke-width="0.1">Mer</text>
<text x="326.7" y="387.98" font-size="5.95" letter-spacing="-0.05" fill="#1a1a1a" stroke="#1a1a1a" stroke-width="0.1">Tie-2</text>
<text x="326.7" y="395.14" font-size="5.95" letter-spacing="-0.05" fill="#1a1a1a" stroke="#1a1a1a" stroke-width="0.1">EphB1</text>
<text x="326.7" y="402.31" font-size="5.95" letter-spacing="-0.05" fill="#1a1a1a" stroke="#1a1a1a" stroke-width="0.1">TrkB</text>
<text x="326.7" y="409.47" font-size="5.95" letter-spacing="-0.05" fill="#1a1a1a" stroke="#1a1a1a" stroke-width="0.1">TrkC</text>
<polygon points="349.4,121.2 359.2,118.10000000000001 359.2,124.3" fill="#dc2329"/>
<text x="361.3" y="123.80" font-size="7.15" fill="#222" stroke="#222" stroke-width="0.1">EGFR</text>
<polygon points="349.4,328.4 359.2,325.29999999999995 359.2,331.5" fill="#dc2329"/>
<text x="361.3" y="331.00" font-size="7.15" fill="#222" stroke="#222" stroke-width="0.1">TYRO3</text>
<path d="M68.61 39.40H201.19M68.61 39.40V52.60M62.00 52.60H72.32M62.00 52.60V90.00M72.32 52.60V81.80M69.11 81.80H76.23M69.11 81.80V90.00M76.23 81.80V90.00M201.19 39.40V45.00M108.10 45.00H229.55M108.10 45.00V58.40M104.49 58.40H133.45M133.45 58.40V90.00M104.49 58.40V66.60M83.34 66.60H108.30M83.34 66.60V90.00M108.30 66.60V82.50M104.49 82.50H126.34M126.34 82.50V90.00M104.49 82.50V85.00M93.77 85.00H112.01M93.77 85.00V87.30M90.56 87.30H97.67M90.56 87.30V90.00M97.67 87.30V90.00M112.01 85.00V86.80M104.89 86.80H119.12M104.89 86.80V90.00M112.01 86.80V90.00M119.12 86.80V90.00M229.55 45.00V50.30M226.85 50.30H319.24M319.24 50.30V90.00M226.85 50.30V51.90M222.44 51.90H312.13M312.13 51.90V90.00M222.44 51.90V73.30M161.91 73.30H254.50M161.91 73.30V77.30M158.30 77.30H183.35M183.35 77.30V90.00M176.44 77.30V90.00M158.30 77.30V79.50M154.59 79.50H158.30M154.59 79.50V81.60M147.28 81.60H169.23M147.28 81.60V90.00M161.91 81.60V90.00M169.23 81.60V90.00M144.17 84.40H154.90M154.90 84.40V90.00M144.17 84.40V86.40M140.06 86.40H144.17M140.06 86.40V90.00M193.98 73.30V81.40M190.57 81.40H197.79M190.57 81.40V90.00M197.79 81.40V90.00M215.42 75.90H254.50M215.42 75.90V80.00M212.22 80.00H226.35M226.35 80.00V90.00M212.22 80.00V82.30M204.90 82.30H219.23M204.90 82.30V90.00M212.01 82.30V90.00M219.23 82.30V90.00M254.50 73.30V76.80M236.77 76.80H297.90M236.77 76.80V79.80M233.46 79.80H240.68M233.46 79.80V90.00M240.68 79.80V90.00M254.91 76.80V79.30M251.80 79.30H262.12M262.12 79.30V90.00M251.80 79.30V81.60M247.79 81.60H254.91M247.79 81.60V90.00M254.91 81.60V90.00M276.45 76.80V79.50M272.74 79.50H283.57M283.57 79.50V90.00M272.74 79.50V84.50M269.24 84.50H276.35M269.24 84.50V90.00M276.35 84.50V90.00M297.90 76.80V79.70M290.68 79.70H301.50M290.68 79.70V90.00M301.50 79.70V83.00M297.90 83.00H305.01M297.90 83.00V90.00M305.01 83.00V90.00" stroke="#8a8a8a" stroke-width="0.8" fill="none" stroke-linecap="square"/>
<path d="M16.60 121.23H55.50M16.60 121.23V157.03M15.30 157.03H24.40M24.40 149.51V182.00M24.40 149.51H27.00M27.00 135.77V160.34M27.00 135.77H39.70M39.70 131.96V142.69M39.70 131.96H45.50M45.50 128.35V135.57M45.50 128.35H55.50M45.50 135.57H55.50M39.70 142.69H55.50M27.00 160.34H30.30M30.30 153.42V167.66M30.30 153.42H48.30M48.30 149.81V157.03M48.30 149.81H55.50M48.30 157.03H55.50M30.30 167.66H36.80M36.80 164.15V171.27M36.80 164.15H55.50M36.80 171.27H55.50M24.40 182.00H41.80M41.80 178.39V185.61M41.80 178.39H55.50M41.80 185.61H55.50M7.20 182.00H15.30M15.30 157.03V225.02M15.30 196.54H34.60M34.60 192.73V199.85M34.60 192.73H55.50M34.60 199.85H55.50M15.30 225.02H19.50M19.50 210.68V232.04M19.50 210.68H24.80M24.80 207.07V214.19M24.80 207.07H55.50M24.80 214.19H55.50M19.50 232.04H31.00M31.00 224.92V239.26M31.00 224.92H36.80M36.80 221.31V228.53M36.80 221.31H55.50M36.80 228.53H55.50M31.00 239.26H34.60M34.60 235.65V242.77M34.60 235.65H55.50M34.60 242.77H55.50M7.20 182.00V286.69M4.30 221.21H7.20M4.30 221.21V368.82M7.20 286.69H22.00M22.00 253.50V312.47M22.00 253.50H43.00M43.00 249.99V257.11M43.00 249.99H55.50M43.00 257.11H55.50M22.00 275.16H26.70M26.70 271.55V285.69M26.70 271.55H33.50M33.50 264.23V275.16M33.50 264.23H55.50M33.50 275.16H39.20M39.20 271.45V278.57M39.20 271.45H55.50M39.20 278.57H55.50M26.70 285.69H55.50M22.00 312.47H25.30M25.30 304.04V321.49M25.30 304.04H29.60M29.60 292.81V307.65M29.60 292.81H55.50M29.60 307.65H36.10M36.10 300.03V310.76M36.10 300.03H55.50M36.10 310.76H46.90M46.90 307.15V314.27M46.90 307.15H55.50M46.90 314.27H55.50M25.30 321.49H55.50M4.30 368.82H17.60M17.60 332.62V376.04M17.60 332.62H22.80M22.80 328.61V335.73M22.80 328.61H55.50M22.80 335.73H55.50M17.60 376.04H21.60M21.60 346.86V382.96M21.60 346.86H32.00M32.00 342.95V350.07M32.00 342.95H55.50M32.00 350.07H55.50M21.60 382.96H24.50M24.50 372.83V400.31M24.50 372.83H32.90M32.90 365.31V382.96M32.90 365.31H37.20M37.20 361.60V371.53M37.20 361.60H44.00M44.00 357.19V364.31M44.00 357.19H55.50M44.00 364.31H55.50M37.20 371.53H55.50M32.90 382.96H41.60M41.60 378.65V385.77M41.60 378.65H55.50M41.60 385.77H55.50M24.50 400.31H37.20M37.20 392.99V404.72M37.20 392.99H55.50M37.20 404.72H42.30M42.30 400.11V407.23M42.30 400.11H55.50M42.30 407.23H55.50" stroke="#8a8a8a" stroke-width="0.8" fill="none" stroke-linecap="square"/>
<text x="409.5" y="14.5" font-size="14.5" fill="#222">b</text>
<text x="506.5" y="38.2" font-size="8.6" font-weight="bold" fill="#1e1e1e" stroke="#1e1e1e" stroke-width="0.15" text-anchor="middle">pTYRO3</text>
<path d="M462.8 171.30H467.3" stroke="#4553ab" stroke-width="1.2"/>
<text x="462.4" y="174.70" font-size="8.7" font-weight="bold" fill="#2e2e2e" stroke="#2e2e2e" stroke-width="0.25" text-anchor="end">0</text>
<path d="M462.8 142.09H467.3" stroke="#4553ab" stroke-width="1.2"/>
<text x="462.4" y="145.49" font-size="8.7" font-weight="bold" fill="#2e2e2e" stroke="#2e2e2e" stroke-width="0.25" text-anchor="end">50</text>
<path d="M462.8 112.88H467.3" stroke="#4553ab" stroke-width="1.2"/>
<text x="462.4" y="116.28" font-size="8.7" font-weight="bold" fill="#2e2e2e" stroke="#2e2e2e" stroke-width="0.25" text-anchor="end">100</text>
<path d="M462.8 83.67H467.3" stroke="#4553ab" stroke-width="1.2"/>
<text x="462.4" y="87.07" font-size="8.7" font-weight="bold" fill="#2e2e2e" stroke="#2e2e2e" stroke-width="0.25" text-anchor="end">150</text>
<path d="M462.8 54.46H467.3" stroke="#4553ab" stroke-width="1.2"/>
<text x="462.4" y="57.86" font-size="8.7" font-weight="bold" fill="#2e2e2e" stroke="#2e2e2e" stroke-width="0.25" text-anchor="end">200</text>
<path d="M482.8 171.30V176.10" stroke="#4553ab" stroke-width="1.2"/>
<path d="M506.2 171.30V176.10" stroke="#4553ab" stroke-width="1.2"/>
<path d="M529.5 171.30V176.10" stroke="#4553ab" stroke-width="1.2"/>
<text transform="translate(438.4 112.38) rotate(-90)" font-size="7.7" font-weight="bold" fill="#222" stroke="#222" stroke-width="0.2" text-anchor="middle">Normalized signal intensity</text>
<text transform="translate(485.0 182.70000000000002) rotate(-45)" font-size="9.0" fill="#333" stroke="#333" stroke-width="0.35" text-anchor="end">Rec/Met</text>
<text transform="translate(508.4 182.70000000000002) rotate(-45)" font-size="9.0" fill="#333" stroke="#333" stroke-width="0.35" text-anchor="end">TC</text>
<text transform="translate(531.7 182.70000000000002) rotate(-45)" font-size="9.0" fill="#333" stroke="#333" stroke-width="0.35" text-anchor="end">TH</text>
<path d="M482.6 68.4V52.5H529.6V90.2" stroke="#8d8fc6" stroke-width="0.9" fill="none"/>
<text x="506.5" y="51.400000000000006" font-size="9.2" font-weight="bold" fill="#222" text-anchor="middle">**</text>
<path d="M482.6 68.4V61.2H506.2V146" stroke="#8d8fc6" stroke-width="0.9" fill="none"/>
<text x="495.6" y="61.6" font-size="9.2" font-weight="bold" fill="#222" text-anchor="middle">****</text>
<path d="M476.40 171.30V115.51H489.60V171.30" fill="none" stroke="#ec3f9b" stroke-width="1.3"/>
<path d="M483 104.41V126.61M479 104.41H487M479 126.61H487" stroke="#ec3f9b" stroke-width="1.1"/>
<path d="M499.60 171.30V167.21H512.80V171.30" fill="none" stroke="#f7941d" stroke-width="1.3"/>
<path d="M506.2 164.87V169.55M502.2 164.87H510.2M502.2 169.55H510.2" stroke="#f7941d" stroke-width="1.1"/>
<path d="M522.90 171.30V154.36H536.10V171.30" fill="none" stroke="#8a8a2c" stroke-width="1.3"/>
<path d="M529.5 149.68V159.03M525.5 149.68H533.5M525.5 159.03H533.5" stroke="#8a8a2c" stroke-width="1.1"/>
<circle cx="483" cy="76" r="1.8" fill="#ec3f9b"/>
<circle cx="483" cy="109.9" r="1.8" fill="#ec3f9b"/>
<circle cx="483" cy="122.1" r="1.8" fill="#ec3f9b"/>
<circle cx="483" cy="128.3" r="1.8" fill="#ec3f9b"/>
<circle cx="483" cy="140.9" r="1.8" fill="#ec3f9b"/>
<circle cx="503.2" cy="160.6" r="1.8" fill="#f7941d"/>
<circle cx="509.4" cy="161.5" r="1.8" fill="#f7941d"/>
<circle cx="500.5" cy="169.3" r="1.8" fill="#f7941d"/>
<circle cx="504.1" cy="169.3" r="1.8" fill="#f7941d"/>
<circle cx="507.8" cy="169.3" r="1.8" fill="#f7941d"/>
<circle cx="511.9" cy="169.3" r="1.8" fill="#f7941d"/>
<circle cx="529.5" cy="108.9" r="1.8" fill="#8a8a2c"/>
<circle cx="527.9" cy="121.9" r="1.8" fill="#8a8a2c"/>
<circle cx="530.7" cy="121.9" r="1.8" fill="#8a8a2c"/>
<circle cx="529.6" cy="146.2" r="1.8" fill="#8a8a2c"/>
<circle cx="526.5" cy="152.2" r="1.8" fill="#8a8a2c"/>
<circle cx="529.6" cy="151.9" r="1.8" fill="#8a8a2c"/>
<circle cx="529.6" cy="157.8" r="1.8" fill="#8a8a2c"/>
<circle cx="529.6" cy="162" r="1.8" fill="#8a8a2c"/>
<circle cx="526.5" cy="167" r="1.8" fill="#8a8a2c"/>
<circle cx="529.6" cy="165.6" r="1.8" fill="#8a8a2c"/>
<circle cx="532.5" cy="167" r="1.8" fill="#8a8a2c"/>
<circle cx="523.8" cy="171" r="1.8" fill="#8a8a2c"/>
<circle cx="529.3" cy="170.2" r="1.8" fill="#8a8a2c"/>
<circle cx="532.5" cy="170.2" r="1.8" fill="#8a8a2c"/>
<circle cx="535.7" cy="170.6" r="1.8" fill="#8a8a2c"/>
<path d="M467.3 53.96V171.30" stroke="#4553ab" stroke-width="1.2" fill="none"/>
<path d="M462.8 171.30H544.8" stroke="#4553ab" stroke-width="1.4" fill="none"/>
<text x="410.6" y="223.5" font-size="14.5" fill="#222">c</text>
<text x="506.5" y="241.6" font-size="8.6" font-weight="bold" fill="#1e1e1e" stroke="#1e1e1e" stroke-width="0.15" text-anchor="middle">pEGFR</text>
<path d="M462.8 375.20H467.3" stroke="#4553ab" stroke-width="1.2"/>
<text x="462.4" y="378.60" font-size="8.7" font-weight="bold" fill="#2e2e2e" stroke="#2e2e2e" stroke-width="0.25" text-anchor="end">0</text>
<path d="M462.8 352.06H467.3" stroke="#4553ab" stroke-width="1.2"/>
<text x="462.4" y="355.46" font-size="8.7" font-weight="bold" fill="#2e2e2e" stroke="#2e2e2e" stroke-width="0.25" text-anchor="end">50</text>
<path d="M462.8 328.92H467.3" stroke="#4553ab" stroke-width="1.2"/>
<text x="462.4" y="332.32" font-size="8.7" font-weight="bold" fill="#2e2e2e" stroke="#2e2e2e" stroke-width="0.25" text-anchor="end">100</text>
<path d="M462.8 305.78H467.3" stroke="#4553ab" stroke-width="1.2"/>
<text x="462.4" y="309.18" font-size="8.7" font-weight="bold" fill="#2e2e2e" stroke="#2e2e2e" stroke-width="0.25" text-anchor="end">150</text>
<path d="M462.8 282.64H467.3" stroke="#4553ab" stroke-width="1.2"/>
<text x="462.4" y="286.04" font-size="8.7" font-weight="bold" fill="#2e2e2e" stroke="#2e2e2e" stroke-width="0.25" text-anchor="end">200</text>
<path d="M462.8 259.50H467.3" stroke="#4553ab" stroke-width="1.2"/>
<text x="462.4" y="262.90" font-size="8.7" font-weight="bold" fill="#2e2e2e" stroke="#2e2e2e" stroke-width="0.25" text-anchor="end">250</text>
<path d="M482.8 375.20V380.00" stroke="#4553ab" stroke-width="1.2"/>
<path d="M506.2 375.20V380.00" stroke="#4553ab" stroke-width="1.2"/>
<path d="M529.5 375.20V380.00" stroke="#4553ab" stroke-width="1.2"/>
<text transform="translate(438.4 312.85) rotate(-90)" font-size="7.7" font-weight="bold" fill="#222" stroke="#222" stroke-width="0.2" text-anchor="middle">Normalized signal intensity</text>
<text transform="translate(485.0 386.59999999999997) rotate(-45)" font-size="9.0" fill="#333" stroke="#333" stroke-width="0.35" text-anchor="end">Rec/Met</text>
<text transform="translate(508.4 386.59999999999997) rotate(-45)" font-size="9.0" fill="#333" stroke="#333" stroke-width="0.35" text-anchor="end">TC</text>
<text transform="translate(531.7 386.59999999999997) rotate(-45)" font-size="9.0" fill="#333" stroke="#333" stroke-width="0.35" text-anchor="end">TH</text>
<path d="M482.9 321.5V256.6H529.5V266.4" stroke="#8d8fc6" stroke-width="0.9" fill="none"/>
<text x="506.8" y="255.5" font-size="9.2" font-weight="bold" fill="#222" text-anchor="middle">**</text>
<path d="M482.9 321.5V265.9H506.2V275.6" stroke="#8d8fc6" stroke-width="0.9" fill="none"/>
<text x="494.4" y="264.8" font-size="9.2" font-weight="bold" fill="#222" text-anchor="middle">**</text>
<path d="M476.10 375.20V357.15H489.30V375.20" fill="none" stroke="#ec3f9b" stroke-width="1.3"/>
<path d="M482.7 348.82V365.48M478.7 348.82H486.7M478.7 365.48H486.7" stroke="#ec3f9b" stroke-width="1.1"/>
<path d="M499.60 375.20V317.81H512.80V375.20" fill="none" stroke="#f7941d" stroke-width="1.3"/>
<path d="M506.2 311.80V323.83M502.2 311.80H510.2M502.2 323.83H510.2" stroke="#f7941d" stroke-width="1.1"/>
<path d="M522.90 375.20V315.96H536.10V375.20" fill="none" stroke="#8a8a2c" stroke-width="1.3"/>
<path d="M529.5 308.09V323.83M525.5 308.09H533.5M525.5 323.83H533.5" stroke="#8a8a2c" stroke-width="1.1"/>
<circle cx="482.7" cy="333.9" r="1.8" fill="#ec3f9b"/>
<circle cx="482.7" cy="341.9" r="1.8" fill="#ec3f9b"/>
<circle cx="482.7" cy="365" r="1.8" fill="#ec3f9b"/>
<circle cx="482.7" cy="369.6" r="1.8" fill="#ec3f9b"/>
<circle cx="482.7" cy="375.2" r="1.8" fill="#ec3f9b"/>
<circle cx="506" cy="285.8" r="1.8" fill="#f7941d"/>
<circle cx="506" cy="305.2" r="1.8" fill="#f7941d"/>
<circle cx="503.1" cy="314.2" r="1.8" fill="#f7941d"/>
<circle cx="509.8" cy="311.3" r="1.8" fill="#f7941d"/>
<circle cx="506" cy="321.9" r="1.8" fill="#f7941d"/>
<circle cx="506.3" cy="322.3" r="1.8" fill="#f7941d"/>
<circle cx="502.8" cy="342.4" r="1.8" fill="#f7941d"/>
<circle cx="509.3" cy="340.8" r="1.8" fill="#f7941d"/>
<circle cx="529" cy="279.2" r="1.8" fill="#8a8a2c"/>
<circle cx="525.8" cy="287.7" r="1.8" fill="#8a8a2c"/>
<circle cx="532.9" cy="285.4" r="1.8" fill="#8a8a2c"/>
<circle cx="532.9" cy="290.2" r="1.8" fill="#8a8a2c"/>
<circle cx="525.8" cy="291" r="1.8" fill="#8a8a2c"/>
<circle cx="525.8" cy="298.8" r="1.8" fill="#8a8a2c"/>
<circle cx="532.9" cy="297.9" r="1.8" fill="#8a8a2c"/>
<circle cx="529" cy="303.7" r="1.8" fill="#8a8a2c"/>
<circle cx="529" cy="309" r="1.8" fill="#8a8a2c"/>
<circle cx="529" cy="321.9" r="1.8" fill="#8a8a2c"/>
<circle cx="529.6" cy="350" r="1.8" fill="#8a8a2c"/>
<circle cx="525.9" cy="362.3" r="1.8" fill="#8a8a2c"/>
<circle cx="529.6" cy="369.7" r="1.8" fill="#8a8a2c"/>
<circle cx="533" cy="365.7" r="1.8" fill="#8a8a2c"/>
<path d="M467.3 259.00V375.20" stroke="#4553ab" stroke-width="1.2" fill="none"/>
<path d="M462.8 375.20H544.8" stroke="#4553ab" stroke-width="1.4" fill="none"/>
</svg></body></html>
